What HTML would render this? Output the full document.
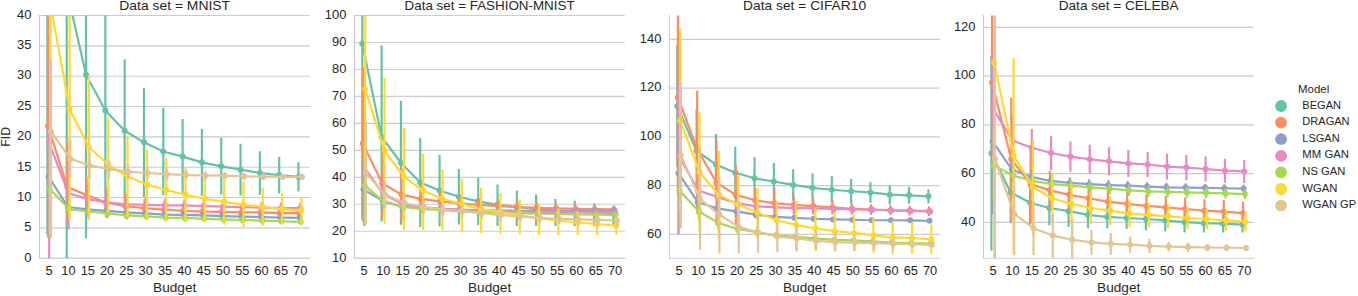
<!DOCTYPE html><html><head><meta charset="utf-8"><style>html,body{margin:0;padding:0;background:#fff;}body{width:1358px;height:296px;overflow:hidden;}</style></head><body><svg width="1358" height="296" viewBox="0 0 1358 296" style="display:block" font-family='"Liberation Sans", sans-serif' fill="#262626">
<rect width="1358" height="296" fill="#ffffff"/>
<defs><clipPath id="clip0"><rect x="39.5" y="15.5" width="270.4" height="242.75"/></clipPath></defs>
<line x1="39.5" y1="258.25" x2="309.9" y2="258.25" stroke="#cccccc" stroke-width="1.1"/>
<text x="31.50" y="261.55" font-size="11.97" text-anchor="end" textLength="7.19" lengthAdjust="spacingAndGlyphs" >0</text>
<line x1="39.5" y1="227.91" x2="309.9" y2="227.91" stroke="#cccccc" stroke-width="1.1"/>
<text x="31.50" y="231.21" font-size="11.97" text-anchor="end" textLength="7.19" lengthAdjust="spacingAndGlyphs" >5</text>
<line x1="39.5" y1="197.56" x2="309.9" y2="197.56" stroke="#cccccc" stroke-width="1.1"/>
<text x="31.50" y="200.86" font-size="11.97" text-anchor="end" textLength="14.38" lengthAdjust="spacingAndGlyphs" >10</text>
<line x1="39.5" y1="167.22" x2="309.9" y2="167.22" stroke="#cccccc" stroke-width="1.1"/>
<text x="31.50" y="170.52" font-size="11.97" text-anchor="end" textLength="14.38" lengthAdjust="spacingAndGlyphs" >15</text>
<line x1="39.5" y1="136.88" x2="309.9" y2="136.88" stroke="#cccccc" stroke-width="1.1"/>
<text x="31.50" y="140.18" font-size="11.97" text-anchor="end" textLength="14.38" lengthAdjust="spacingAndGlyphs" >20</text>
<line x1="39.5" y1="106.53" x2="309.9" y2="106.53" stroke="#cccccc" stroke-width="1.1"/>
<text x="31.50" y="109.83" font-size="11.97" text-anchor="end" textLength="14.38" lengthAdjust="spacingAndGlyphs" >25</text>
<line x1="39.5" y1="76.19" x2="309.9" y2="76.19" stroke="#cccccc" stroke-width="1.1"/>
<text x="31.50" y="79.49" font-size="11.97" text-anchor="end" textLength="14.38" lengthAdjust="spacingAndGlyphs" >30</text>
<line x1="39.5" y1="45.84" x2="309.9" y2="45.84" stroke="#cccccc" stroke-width="1.1"/>
<text x="31.50" y="49.14" font-size="11.97" text-anchor="end" textLength="14.38" lengthAdjust="spacingAndGlyphs" >35</text>
<line x1="39.5" y1="15.50" x2="309.9" y2="15.50" stroke="#cccccc" stroke-width="1.1"/>
<text x="31.50" y="18.80" font-size="11.97" text-anchor="end" textLength="14.38" lengthAdjust="spacingAndGlyphs" >40</text>
<line x1="39.5" y1="15.5" x2="39.5" y2="258.25" stroke="#cccccc" stroke-width="1.1" stroke-linecap="square"/>
<line x1="39.5" y1="258.25" x2="309.9" y2="258.25" stroke="#cccccc" stroke-width="1.1" stroke-linecap="square"/>
<text x="49.16" y="274.70" font-size="11.87" text-anchor="middle" textLength="7.13" lengthAdjust="spacingAndGlyphs" >5</text>
<text x="68.47" y="274.70" font-size="11.87" text-anchor="middle" textLength="14.25" lengthAdjust="spacingAndGlyphs" >10</text>
<text x="87.79" y="274.70" font-size="11.87" text-anchor="middle" textLength="14.25" lengthAdjust="spacingAndGlyphs" >15</text>
<text x="107.10" y="274.70" font-size="11.87" text-anchor="middle" textLength="14.25" lengthAdjust="spacingAndGlyphs" >20</text>
<text x="126.41" y="274.70" font-size="11.87" text-anchor="middle" textLength="14.25" lengthAdjust="spacingAndGlyphs" >25</text>
<text x="145.73" y="274.70" font-size="11.87" text-anchor="middle" textLength="14.25" lengthAdjust="spacingAndGlyphs" >30</text>
<text x="165.04" y="274.70" font-size="11.87" text-anchor="middle" textLength="14.25" lengthAdjust="spacingAndGlyphs" >35</text>
<text x="184.36" y="274.70" font-size="11.87" text-anchor="middle" textLength="14.25" lengthAdjust="spacingAndGlyphs" >40</text>
<text x="203.67" y="274.70" font-size="11.87" text-anchor="middle" textLength="14.25" lengthAdjust="spacingAndGlyphs" >45</text>
<text x="222.99" y="274.70" font-size="11.87" text-anchor="middle" textLength="14.25" lengthAdjust="spacingAndGlyphs" >50</text>
<text x="242.30" y="274.70" font-size="11.87" text-anchor="middle" textLength="14.25" lengthAdjust="spacingAndGlyphs" >55</text>
<text x="261.61" y="274.70" font-size="11.87" text-anchor="middle" textLength="14.25" lengthAdjust="spacingAndGlyphs" >60</text>
<text x="280.93" y="274.70" font-size="11.87" text-anchor="middle" textLength="14.25" lengthAdjust="spacingAndGlyphs" >65</text>
<text x="300.24" y="274.70" font-size="11.87" text-anchor="middle" textLength="14.25" lengthAdjust="spacingAndGlyphs" >70</text>
<text x="174.70" y="292.10" font-size="12.72" text-anchor="middle" textLength="43.16" lengthAdjust="spacingAndGlyphs" >Budget</text>
<text x="174.70" y="9.86" font-size="13.24" text-anchor="middle" textLength="110.74" lengthAdjust="spacingAndGlyphs" >Data set = MNIST</text>
<g clip-path="url(#clip0)" stroke-linecap="butt">
<polyline points="47.41,-105.88 66.72,-9.99 86.04,74.67 105.35,110.48 124.66,130.81 143.98,142.34 163.29,151.44 182.61,156.60 201.92,162.36 221.24,166.31 240.55,169.65 259.86,172.98 279.18,175.11 298.49,176.93" fill="none" stroke="#66c2a5" stroke-width="2.2" stroke-linejoin="round"/>
<line x1="47.41" y1="233.97" x2="47.41" y2="-445.72" stroke="#66c2a5" stroke-width="2.2"/>
<line x1="66.72" y1="281.31" x2="66.72" y2="-301.29" stroke="#66c2a5" stroke-width="2.2"/>
<line x1="86.04" y1="238.53" x2="86.04" y2="-89.19" stroke="#66c2a5" stroke-width="2.2"/>
<line x1="105.35" y1="213.64" x2="105.35" y2="7.31" stroke="#66c2a5" stroke-width="2.2"/>
<line x1="124.66" y1="202.42" x2="124.66" y2="59.20" stroke="#66c2a5" stroke-width="2.2"/>
<line x1="143.98" y1="196.96" x2="143.98" y2="87.72" stroke="#66c2a5" stroke-width="2.2"/>
<line x1="163.29" y1="195.13" x2="163.29" y2="107.75" stroke="#66c2a5" stroke-width="2.2"/>
<line x1="182.61" y1="194.22" x2="182.61" y2="118.97" stroke="#66c2a5" stroke-width="2.2"/>
<line x1="201.92" y1="195.74" x2="201.92" y2="128.99" stroke="#66c2a5" stroke-width="2.2"/>
<line x1="221.24" y1="194.83" x2="221.24" y2="137.79" stroke="#66c2a5" stroke-width="2.2"/>
<line x1="240.55" y1="195.44" x2="240.55" y2="143.85" stroke="#66c2a5" stroke-width="2.2"/>
<line x1="259.86" y1="194.83" x2="259.86" y2="151.14" stroke="#66c2a5" stroke-width="2.2"/>
<line x1="279.18" y1="193.31" x2="279.18" y2="156.90" stroke="#66c2a5" stroke-width="2.2"/>
<line x1="298.49" y1="191.49" x2="298.49" y2="162.36" stroke="#66c2a5" stroke-width="2.2"/>
<circle cx="47.41" cy="-105.88" r="3.0" fill="#66c2a5"/>
<circle cx="66.72" cy="-9.99" r="3.0" fill="#66c2a5"/>
<circle cx="86.04" cy="74.67" r="3.0" fill="#66c2a5"/>
<circle cx="105.35" cy="110.48" r="3.0" fill="#66c2a5"/>
<circle cx="124.66" cy="130.81" r="3.0" fill="#66c2a5"/>
<circle cx="143.98" cy="142.34" r="3.0" fill="#66c2a5"/>
<circle cx="163.29" cy="151.44" r="3.0" fill="#66c2a5"/>
<circle cx="182.61" cy="156.60" r="3.0" fill="#66c2a5"/>
<circle cx="201.92" cy="162.36" r="3.0" fill="#66c2a5"/>
<circle cx="221.24" cy="166.31" r="3.0" fill="#66c2a5"/>
<circle cx="240.55" cy="169.65" r="3.0" fill="#66c2a5"/>
<circle cx="259.86" cy="172.98" r="3.0" fill="#66c2a5"/>
<circle cx="279.18" cy="175.11" r="3.0" fill="#66c2a5"/>
<circle cx="298.49" cy="176.93" r="3.0" fill="#66c2a5"/>
<polyline points="47.99,125.95 67.30,186.94 86.62,195.13 105.93,202.42 125.25,206.06 144.56,208.18 163.88,209.70 183.19,210.91 202.50,211.52 221.82,211.82 241.13,212.43 260.45,212.43 279.76,213.04 299.08,213.04" fill="none" stroke="#fc8d62" stroke-width="2.2" stroke-linejoin="round"/>
<line x1="47.99" y1="237.62" x2="47.99" y2="-7.56" stroke="#fc8d62" stroke-width="2.2"/>
<line x1="67.30" y1="223.35" x2="67.30" y2="141.43" stroke="#fc8d62" stroke-width="2.2"/>
<line x1="86.62" y1="213.34" x2="86.62" y2="176.93" stroke="#fc8d62" stroke-width="2.2"/>
<line x1="105.93" y1="217.59" x2="105.93" y2="187.25" stroke="#fc8d62" stroke-width="2.2"/>
<line x1="125.25" y1="218.20" x2="125.25" y2="193.92" stroke="#fc8d62" stroke-width="2.2"/>
<line x1="144.56" y1="217.29" x2="144.56" y2="199.08" stroke="#fc8d62" stroke-width="2.2"/>
<line x1="163.88" y1="217.59" x2="163.88" y2="201.81" stroke="#fc8d62" stroke-width="2.2"/>
<line x1="183.19" y1="218.20" x2="183.19" y2="203.63" stroke="#fc8d62" stroke-width="2.2"/>
<line x1="202.50" y1="218.20" x2="202.50" y2="204.84" stroke="#fc8d62" stroke-width="2.2"/>
<line x1="221.82" y1="217.89" x2="221.82" y2="205.76" stroke="#fc8d62" stroke-width="2.2"/>
<line x1="241.13" y1="218.50" x2="241.13" y2="206.36" stroke="#fc8d62" stroke-width="2.2"/>
<line x1="260.45" y1="218.50" x2="260.45" y2="206.36" stroke="#fc8d62" stroke-width="2.2"/>
<line x1="279.76" y1="218.50" x2="279.76" y2="207.58" stroke="#fc8d62" stroke-width="2.2"/>
<line x1="299.08" y1="218.50" x2="299.08" y2="207.58" stroke="#fc8d62" stroke-width="2.2"/>
<circle cx="47.99" cy="125.95" r="3.0" fill="#fc8d62"/>
<circle cx="67.30" cy="186.94" r="3.0" fill="#fc8d62"/>
<circle cx="86.62" cy="195.13" r="3.0" fill="#fc8d62"/>
<circle cx="105.93" cy="202.42" r="3.0" fill="#fc8d62"/>
<circle cx="125.25" cy="206.06" r="3.0" fill="#fc8d62"/>
<circle cx="144.56" cy="208.18" r="3.0" fill="#fc8d62"/>
<circle cx="163.88" cy="209.70" r="3.0" fill="#fc8d62"/>
<circle cx="183.19" cy="210.91" r="3.0" fill="#fc8d62"/>
<circle cx="202.50" cy="211.52" r="3.0" fill="#fc8d62"/>
<circle cx="221.82" cy="211.82" r="3.0" fill="#fc8d62"/>
<circle cx="241.13" cy="212.43" r="3.0" fill="#fc8d62"/>
<circle cx="260.45" cy="212.43" r="3.0" fill="#fc8d62"/>
<circle cx="279.76" cy="213.04" r="3.0" fill="#fc8d62"/>
<circle cx="299.08" cy="213.04" r="3.0" fill="#fc8d62"/>
<polyline points="48.57,176.63 67.89,206.97 87.20,209.40 106.52,210.91 125.83,212.43 145.15,213.34 164.46,214.56 183.77,214.86 203.09,215.47 222.40,216.07 241.72,216.68 261.03,216.98 280.35,217.59 299.66,217.89" fill="none" stroke="#8da0cb" stroke-width="2.2" stroke-linejoin="round"/>
<line x1="48.57" y1="231.24" x2="48.57" y2="140.21" stroke="#8da0cb" stroke-width="2.2"/>
<line x1="67.89" y1="219.11" x2="67.89" y2="194.83" stroke="#8da0cb" stroke-width="2.2"/>
<line x1="87.20" y1="215.47" x2="87.20" y2="203.33" stroke="#8da0cb" stroke-width="2.2"/>
<line x1="106.52" y1="215.77" x2="106.52" y2="206.06" stroke="#8da0cb" stroke-width="2.2"/>
<line x1="125.83" y1="216.68" x2="125.83" y2="208.18" stroke="#8da0cb" stroke-width="2.2"/>
<line x1="145.15" y1="216.98" x2="145.15" y2="209.70" stroke="#8da0cb" stroke-width="2.2"/>
<line x1="164.46" y1="218.20" x2="164.46" y2="210.91" stroke="#8da0cb" stroke-width="2.2"/>
<line x1="183.77" y1="217.89" x2="183.77" y2="211.82" stroke="#8da0cb" stroke-width="2.2"/>
<line x1="203.09" y1="218.50" x2="203.09" y2="212.43" stroke="#8da0cb" stroke-width="2.2"/>
<line x1="222.40" y1="219.11" x2="222.40" y2="213.04" stroke="#8da0cb" stroke-width="2.2"/>
<line x1="241.72" y1="219.71" x2="241.72" y2="213.64" stroke="#8da0cb" stroke-width="2.2"/>
<line x1="261.03" y1="220.02" x2="261.03" y2="213.95" stroke="#8da0cb" stroke-width="2.2"/>
<line x1="280.35" y1="220.62" x2="280.35" y2="214.56" stroke="#8da0cb" stroke-width="2.2"/>
<line x1="299.66" y1="220.93" x2="299.66" y2="214.86" stroke="#8da0cb" stroke-width="2.2"/>
<circle cx="48.57" cy="176.63" r="3.0" fill="#8da0cb"/>
<circle cx="67.89" cy="206.97" r="3.0" fill="#8da0cb"/>
<circle cx="87.20" cy="209.40" r="3.0" fill="#8da0cb"/>
<circle cx="106.52" cy="210.91" r="3.0" fill="#8da0cb"/>
<circle cx="125.83" cy="212.43" r="3.0" fill="#8da0cb"/>
<circle cx="145.15" cy="213.34" r="3.0" fill="#8da0cb"/>
<circle cx="164.46" cy="214.56" r="3.0" fill="#8da0cb"/>
<circle cx="183.77" cy="214.86" r="3.0" fill="#8da0cb"/>
<circle cx="203.09" cy="215.47" r="3.0" fill="#8da0cb"/>
<circle cx="222.40" cy="216.07" r="3.0" fill="#8da0cb"/>
<circle cx="241.72" cy="216.68" r="3.0" fill="#8da0cb"/>
<circle cx="261.03" cy="216.98" r="3.0" fill="#8da0cb"/>
<circle cx="280.35" cy="217.59" r="3.0" fill="#8da0cb"/>
<circle cx="299.66" cy="217.89" r="3.0" fill="#8da0cb"/>
<polyline points="49.16,142.94 68.47,193.31 87.79,199.08 107.10,202.72 126.41,204.24 145.73,204.84 165.04,205.45 184.36,205.45 203.67,206.06 222.99,206.67 242.30,207.27 261.61,207.58 280.93,208.18 300.24,208.18" fill="none" stroke="#e78ac3" stroke-width="2.2" stroke-linejoin="round"/>
<line x1="49.16" y1="294.66" x2="49.16" y2="127.77" stroke="#e78ac3" stroke-width="2.2"/>
<line x1="68.47" y1="229.73" x2="68.47" y2="156.90" stroke="#e78ac3" stroke-width="2.2"/>
<line x1="87.79" y1="214.25" x2="87.79" y2="183.91" stroke="#e78ac3" stroke-width="2.2"/>
<line x1="107.10" y1="214.86" x2="107.10" y2="190.58" stroke="#e78ac3" stroke-width="2.2"/>
<line x1="126.41" y1="213.34" x2="126.41" y2="195.13" stroke="#e78ac3" stroke-width="2.2"/>
<line x1="145.73" y1="212.13" x2="145.73" y2="197.56" stroke="#e78ac3" stroke-width="2.2"/>
<line x1="165.04" y1="212.13" x2="165.04" y2="198.78" stroke="#e78ac3" stroke-width="2.2"/>
<line x1="184.36" y1="211.52" x2="184.36" y2="199.38" stroke="#e78ac3" stroke-width="2.2"/>
<line x1="203.67" y1="212.13" x2="203.67" y2="199.99" stroke="#e78ac3" stroke-width="2.2"/>
<line x1="222.99" y1="212.73" x2="222.99" y2="200.60" stroke="#e78ac3" stroke-width="2.2"/>
<line x1="242.30" y1="212.73" x2="242.30" y2="201.81" stroke="#e78ac3" stroke-width="2.2"/>
<line x1="261.61" y1="213.04" x2="261.61" y2="202.11" stroke="#e78ac3" stroke-width="2.2"/>
<line x1="280.93" y1="213.64" x2="280.93" y2="202.72" stroke="#e78ac3" stroke-width="2.2"/>
<line x1="300.24" y1="213.64" x2="300.24" y2="202.72" stroke="#e78ac3" stroke-width="2.2"/>
<circle cx="49.16" cy="142.94" r="3.0" fill="#e78ac3"/>
<circle cx="68.47" cy="193.31" r="3.0" fill="#e78ac3"/>
<circle cx="87.79" cy="199.08" r="3.0" fill="#e78ac3"/>
<circle cx="107.10" cy="202.72" r="3.0" fill="#e78ac3"/>
<circle cx="126.41" cy="204.24" r="3.0" fill="#e78ac3"/>
<circle cx="145.73" cy="204.84" r="3.0" fill="#e78ac3"/>
<circle cx="165.04" cy="205.45" r="3.0" fill="#e78ac3"/>
<circle cx="184.36" cy="205.45" r="3.0" fill="#e78ac3"/>
<circle cx="203.67" cy="206.06" r="3.0" fill="#e78ac3"/>
<circle cx="222.99" cy="206.67" r="3.0" fill="#e78ac3"/>
<circle cx="242.30" cy="207.27" r="3.0" fill="#e78ac3"/>
<circle cx="261.61" cy="207.58" r="3.0" fill="#e78ac3"/>
<circle cx="280.93" cy="208.18" r="3.0" fill="#e78ac3"/>
<circle cx="300.24" cy="208.18" r="3.0" fill="#e78ac3"/>
<polyline points="49.74,189.07 69.05,209.09 88.37,211.52 107.68,213.34 127.00,215.47 146.31,216.38 165.63,217.59 184.94,217.89 204.25,218.80 223.57,219.41 242.88,220.02 262.20,220.62 281.51,221.23 300.83,221.84" fill="none" stroke="#a6d854" stroke-width="2.2" stroke-linejoin="round"/>
<line x1="49.74" y1="237.62" x2="49.74" y2="146.59" stroke="#a6d854" stroke-width="2.2"/>
<line x1="69.05" y1="218.20" x2="69.05" y2="199.99" stroke="#a6d854" stroke-width="2.2"/>
<line x1="88.37" y1="217.59" x2="88.37" y2="205.45" stroke="#a6d854" stroke-width="2.2"/>
<line x1="107.68" y1="218.20" x2="107.68" y2="208.49" stroke="#a6d854" stroke-width="2.2"/>
<line x1="127.00" y1="219.71" x2="127.00" y2="211.22" stroke="#a6d854" stroke-width="2.2"/>
<line x1="146.31" y1="220.02" x2="146.31" y2="212.73" stroke="#a6d854" stroke-width="2.2"/>
<line x1="165.63" y1="221.23" x2="165.63" y2="213.95" stroke="#a6d854" stroke-width="2.2"/>
<line x1="184.94" y1="220.93" x2="184.94" y2="214.86" stroke="#a6d854" stroke-width="2.2"/>
<line x1="204.25" y1="221.84" x2="204.25" y2="215.77" stroke="#a6d854" stroke-width="2.2"/>
<line x1="223.57" y1="222.44" x2="223.57" y2="216.38" stroke="#a6d854" stroke-width="2.2"/>
<line x1="242.88" y1="223.05" x2="242.88" y2="216.98" stroke="#a6d854" stroke-width="2.2"/>
<line x1="262.20" y1="223.66" x2="262.20" y2="217.59" stroke="#a6d854" stroke-width="2.2"/>
<line x1="281.51" y1="224.27" x2="281.51" y2="218.20" stroke="#a6d854" stroke-width="2.2"/>
<line x1="300.83" y1="224.87" x2="300.83" y2="218.80" stroke="#a6d854" stroke-width="2.2"/>
<circle cx="49.74" cy="189.07" r="3.0" fill="#a6d854"/>
<circle cx="69.05" cy="209.09" r="3.0" fill="#a6d854"/>
<circle cx="88.37" cy="211.52" r="3.0" fill="#a6d854"/>
<circle cx="107.68" cy="213.34" r="3.0" fill="#a6d854"/>
<circle cx="127.00" cy="215.47" r="3.0" fill="#a6d854"/>
<circle cx="146.31" cy="216.38" r="3.0" fill="#a6d854"/>
<circle cx="165.63" cy="217.59" r="3.0" fill="#a6d854"/>
<circle cx="184.94" cy="217.89" r="3.0" fill="#a6d854"/>
<circle cx="204.25" cy="218.80" r="3.0" fill="#a6d854"/>
<circle cx="223.57" cy="219.41" r="3.0" fill="#a6d854"/>
<circle cx="242.88" cy="220.02" r="3.0" fill="#a6d854"/>
<circle cx="262.20" cy="220.62" r="3.0" fill="#a6d854"/>
<circle cx="281.51" cy="221.23" r="3.0" fill="#a6d854"/>
<circle cx="300.83" cy="221.84" r="3.0" fill="#a6d854"/>
<polyline points="50.32,3.36 69.64,108.96 88.95,147.19 108.27,164.79 127.58,176.63 146.90,184.51 166.21,189.98 185.52,194.83 204.84,198.78 224.15,201.81 243.47,204.54 262.78,206.97 282.10,209.09 301.41,210.31" fill="none" stroke="#ffd92f" stroke-width="2.2" stroke-linejoin="round"/>
<line x1="50.32" y1="233.97" x2="50.32" y2="-227.25" stroke="#ffd92f" stroke-width="2.2"/>
<line x1="69.64" y1="219.41" x2="69.64" y2="-1.49" stroke="#ffd92f" stroke-width="2.2"/>
<line x1="88.95" y1="219.41" x2="88.95" y2="74.97" stroke="#ffd92f" stroke-width="2.2"/>
<line x1="108.27" y1="212.13" x2="108.27" y2="117.46" stroke="#ffd92f" stroke-width="2.2"/>
<line x1="127.58" y1="216.98" x2="127.58" y2="136.27" stroke="#ffd92f" stroke-width="2.2"/>
<line x1="146.90" y1="219.71" x2="146.90" y2="149.32" stroke="#ffd92f" stroke-width="2.2"/>
<line x1="166.21" y1="221.84" x2="166.21" y2="158.12" stroke="#ffd92f" stroke-width="2.2"/>
<line x1="185.52" y1="222.44" x2="185.52" y2="167.22" stroke="#ffd92f" stroke-width="2.2"/>
<line x1="204.84" y1="221.84" x2="204.84" y2="175.71" stroke="#ffd92f" stroke-width="2.2"/>
<line x1="224.15" y1="224.87" x2="224.15" y2="178.75" stroke="#ffd92f" stroke-width="2.2"/>
<line x1="243.47" y1="227.30" x2="243.47" y2="181.78" stroke="#ffd92f" stroke-width="2.2"/>
<line x1="262.78" y1="226.09" x2="262.78" y2="187.85" stroke="#ffd92f" stroke-width="2.2"/>
<line x1="282.10" y1="224.87" x2="282.10" y2="193.31" stroke="#ffd92f" stroke-width="2.2"/>
<line x1="301.41" y1="223.35" x2="301.41" y2="197.26" stroke="#ffd92f" stroke-width="2.2"/>
<circle cx="50.32" cy="3.36" r="3.0" fill="#ffd92f"/>
<circle cx="69.64" cy="108.96" r="3.0" fill="#ffd92f"/>
<circle cx="88.95" cy="147.19" r="3.0" fill="#ffd92f"/>
<circle cx="108.27" cy="164.79" r="3.0" fill="#ffd92f"/>
<circle cx="127.58" cy="176.63" r="3.0" fill="#ffd92f"/>
<circle cx="146.90" cy="184.51" r="3.0" fill="#ffd92f"/>
<circle cx="166.21" cy="189.98" r="3.0" fill="#ffd92f"/>
<circle cx="185.52" cy="194.83" r="3.0" fill="#ffd92f"/>
<circle cx="204.84" cy="198.78" r="3.0" fill="#ffd92f"/>
<circle cx="224.15" cy="201.81" r="3.0" fill="#ffd92f"/>
<circle cx="243.47" cy="204.54" r="3.0" fill="#ffd92f"/>
<circle cx="262.78" cy="206.97" r="3.0" fill="#ffd92f"/>
<circle cx="282.10" cy="209.09" r="3.0" fill="#ffd92f"/>
<circle cx="301.41" cy="210.31" r="3.0" fill="#ffd92f"/>
<polyline points="50.91,131.41 70.22,158.72 89.54,165.40 108.85,169.04 128.16,171.77 147.48,172.98 166.79,174.20 186.11,175.11 205.42,175.41 224.74,175.72 244.05,176.32 263.36,176.63 282.68,176.93 301.99,176.93" fill="none" stroke="#e5c494" stroke-width="2.2" stroke-linejoin="round"/>
<line x1="50.91" y1="237.62" x2="50.91" y2="59.80" stroke="#e5c494" stroke-width="2.2"/>
<line x1="70.22" y1="177.54" x2="70.22" y2="139.91" stroke="#e5c494" stroke-width="2.2"/>
<line x1="89.54" y1="178.75" x2="89.54" y2="152.05" stroke="#e5c494" stroke-width="2.2"/>
<line x1="108.85" y1="178.14" x2="108.85" y2="159.94" stroke="#e5c494" stroke-width="2.2"/>
<line x1="128.16" y1="179.05" x2="128.16" y2="164.49" stroke="#e5c494" stroke-width="2.2"/>
<line x1="147.48" y1="179.05" x2="147.48" y2="166.92" stroke="#e5c494" stroke-width="2.2"/>
<line x1="166.79" y1="179.66" x2="166.79" y2="168.74" stroke="#e5c494" stroke-width="2.2"/>
<line x1="186.11" y1="179.96" x2="186.11" y2="170.25" stroke="#e5c494" stroke-width="2.2"/>
<line x1="205.42" y1="179.66" x2="205.42" y2="171.16" stroke="#e5c494" stroke-width="2.2"/>
<line x1="224.74" y1="179.36" x2="224.74" y2="172.07" stroke="#e5c494" stroke-width="2.2"/>
<line x1="244.05" y1="179.96" x2="244.05" y2="172.68" stroke="#e5c494" stroke-width="2.2"/>
<line x1="263.36" y1="179.66" x2="263.36" y2="173.59" stroke="#e5c494" stroke-width="2.2"/>
<line x1="282.68" y1="179.96" x2="282.68" y2="173.89" stroke="#e5c494" stroke-width="2.2"/>
<line x1="301.99" y1="179.96" x2="301.99" y2="173.89" stroke="#e5c494" stroke-width="2.2"/>
<circle cx="50.91" cy="131.41" r="3.0" fill="#e5c494"/>
<circle cx="70.22" cy="158.72" r="3.0" fill="#e5c494"/>
<circle cx="89.54" cy="165.40" r="3.0" fill="#e5c494"/>
<circle cx="108.85" cy="169.04" r="3.0" fill="#e5c494"/>
<circle cx="128.16" cy="171.77" r="3.0" fill="#e5c494"/>
<circle cx="147.48" cy="172.98" r="3.0" fill="#e5c494"/>
<circle cx="166.79" cy="174.20" r="3.0" fill="#e5c494"/>
<circle cx="186.11" cy="175.11" r="3.0" fill="#e5c494"/>
<circle cx="205.42" cy="175.41" r="3.0" fill="#e5c494"/>
<circle cx="224.74" cy="175.72" r="3.0" fill="#e5c494"/>
<circle cx="244.05" cy="176.32" r="3.0" fill="#e5c494"/>
<circle cx="263.36" cy="176.63" r="3.0" fill="#e5c494"/>
<circle cx="282.68" cy="176.93" r="3.0" fill="#e5c494"/>
<circle cx="301.99" cy="176.93" r="3.0" fill="#e5c494"/>
</g>
<defs><clipPath id="clip1"><rect x="354.4" y="15.5" width="270.4" height="242.75"/></clipPath></defs>
<line x1="354.4" y1="258.25" x2="624.8" y2="258.25" stroke="#cccccc" stroke-width="1.1"/>
<text x="346.40" y="261.55" font-size="11.97" text-anchor="end" textLength="14.38" lengthAdjust="spacingAndGlyphs" >10</text>
<line x1="354.4" y1="231.28" x2="624.8" y2="231.28" stroke="#cccccc" stroke-width="1.1"/>
<text x="346.40" y="234.58" font-size="11.97" text-anchor="end" textLength="14.38" lengthAdjust="spacingAndGlyphs" >20</text>
<line x1="354.4" y1="204.31" x2="624.8" y2="204.31" stroke="#cccccc" stroke-width="1.1"/>
<text x="346.40" y="207.61" font-size="11.97" text-anchor="end" textLength="14.38" lengthAdjust="spacingAndGlyphs" >30</text>
<line x1="354.4" y1="177.33" x2="624.8" y2="177.33" stroke="#cccccc" stroke-width="1.1"/>
<text x="346.40" y="180.63" font-size="11.97" text-anchor="end" textLength="14.38" lengthAdjust="spacingAndGlyphs" >40</text>
<line x1="354.4" y1="150.36" x2="624.8" y2="150.36" stroke="#cccccc" stroke-width="1.1"/>
<text x="346.40" y="153.66" font-size="11.97" text-anchor="end" textLength="14.38" lengthAdjust="spacingAndGlyphs" >50</text>
<line x1="354.4" y1="123.39" x2="624.8" y2="123.39" stroke="#cccccc" stroke-width="1.1"/>
<text x="346.40" y="126.69" font-size="11.97" text-anchor="end" textLength="14.38" lengthAdjust="spacingAndGlyphs" >60</text>
<line x1="354.4" y1="96.42" x2="624.8" y2="96.42" stroke="#cccccc" stroke-width="1.1"/>
<text x="346.40" y="99.72" font-size="11.97" text-anchor="end" textLength="14.38" lengthAdjust="spacingAndGlyphs" >70</text>
<line x1="354.4" y1="69.44" x2="624.8" y2="69.44" stroke="#cccccc" stroke-width="1.1"/>
<text x="346.40" y="72.74" font-size="11.97" text-anchor="end" textLength="14.38" lengthAdjust="spacingAndGlyphs" >80</text>
<line x1="354.4" y1="42.47" x2="624.8" y2="42.47" stroke="#cccccc" stroke-width="1.1"/>
<text x="346.40" y="45.77" font-size="11.97" text-anchor="end" textLength="14.38" lengthAdjust="spacingAndGlyphs" >90</text>
<line x1="354.4" y1="15.50" x2="624.8" y2="15.50" stroke="#cccccc" stroke-width="1.1"/>
<text x="346.40" y="18.80" font-size="11.97" text-anchor="end" textLength="21.57" lengthAdjust="spacingAndGlyphs" >100</text>
<line x1="354.4" y1="15.5" x2="354.4" y2="258.25" stroke="#cccccc" stroke-width="1.1" stroke-linecap="square"/>
<line x1="354.4" y1="258.25" x2="624.8" y2="258.25" stroke="#cccccc" stroke-width="1.1" stroke-linecap="square"/>
<text x="364.06" y="274.70" font-size="11.87" text-anchor="middle" textLength="7.13" lengthAdjust="spacingAndGlyphs" >5</text>
<text x="383.37" y="274.70" font-size="11.87" text-anchor="middle" textLength="14.25" lengthAdjust="spacingAndGlyphs" >10</text>
<text x="402.69" y="274.70" font-size="11.87" text-anchor="middle" textLength="14.25" lengthAdjust="spacingAndGlyphs" >15</text>
<text x="422.00" y="274.70" font-size="11.87" text-anchor="middle" textLength="14.25" lengthAdjust="spacingAndGlyphs" >20</text>
<text x="441.31" y="274.70" font-size="11.87" text-anchor="middle" textLength="14.25" lengthAdjust="spacingAndGlyphs" >25</text>
<text x="460.63" y="274.70" font-size="11.87" text-anchor="middle" textLength="14.25" lengthAdjust="spacingAndGlyphs" >30</text>
<text x="479.94" y="274.70" font-size="11.87" text-anchor="middle" textLength="14.25" lengthAdjust="spacingAndGlyphs" >35</text>
<text x="499.26" y="274.70" font-size="11.87" text-anchor="middle" textLength="14.25" lengthAdjust="spacingAndGlyphs" >40</text>
<text x="518.57" y="274.70" font-size="11.87" text-anchor="middle" textLength="14.25" lengthAdjust="spacingAndGlyphs" >45</text>
<text x="537.89" y="274.70" font-size="11.87" text-anchor="middle" textLength="14.25" lengthAdjust="spacingAndGlyphs" >50</text>
<text x="557.20" y="274.70" font-size="11.87" text-anchor="middle" textLength="14.25" lengthAdjust="spacingAndGlyphs" >55</text>
<text x="576.51" y="274.70" font-size="11.87" text-anchor="middle" textLength="14.25" lengthAdjust="spacingAndGlyphs" >60</text>
<text x="595.83" y="274.70" font-size="11.87" text-anchor="middle" textLength="14.25" lengthAdjust="spacingAndGlyphs" >65</text>
<text x="615.14" y="274.70" font-size="11.87" text-anchor="middle" textLength="14.25" lengthAdjust="spacingAndGlyphs" >70</text>
<text x="489.60" y="292.10" font-size="12.72" text-anchor="middle" textLength="43.16" lengthAdjust="spacingAndGlyphs" >Budget</text>
<text x="489.60" y="9.86" font-size="13.24" text-anchor="middle" textLength="170.05" lengthAdjust="spacingAndGlyphs" >Data set = FASHION-MNIST</text>
<g clip-path="url(#clip1)" stroke-linecap="butt">
<polyline points="362.31,43.82 381.62,136.88 400.94,162.77 420.25,182.46 439.56,190.55 458.88,196.75 478.19,201.34 497.51,204.84 516.82,207.00 536.14,209.16 555.45,210.51 574.76,211.59 594.08,212.40 613.39,212.94" fill="none" stroke="#66c2a5" stroke-width="2.2" stroke-linejoin="round"/>
<line x1="362.31" y1="219.14" x2="362.31" y2="-131.50" stroke="#66c2a5" stroke-width="2.2"/>
<line x1="381.62" y1="221.57" x2="381.62" y2="45.17" stroke="#66c2a5" stroke-width="2.2"/>
<line x1="400.94" y1="224.80" x2="400.94" y2="100.73" stroke="#66c2a5" stroke-width="2.2"/>
<line x1="420.25" y1="226.96" x2="420.25" y2="137.95" stroke="#66c2a5" stroke-width="2.2"/>
<line x1="439.56" y1="226.42" x2="439.56" y2="154.68" stroke="#66c2a5" stroke-width="2.2"/>
<line x1="458.88" y1="224.53" x2="458.88" y2="168.97" stroke="#66c2a5" stroke-width="2.2"/>
<line x1="478.19" y1="224.94" x2="478.19" y2="177.74" stroke="#66c2a5" stroke-width="2.2"/>
<line x1="497.51" y1="225.88" x2="497.51" y2="184.62" stroke="#66c2a5" stroke-width="2.2"/>
<line x1="516.82" y1="225.88" x2="516.82" y2="190.55" stroke="#66c2a5" stroke-width="2.2"/>
<line x1="536.14" y1="225.88" x2="536.14" y2="194.60" stroke="#66c2a5" stroke-width="2.2"/>
<line x1="555.45" y1="225.88" x2="555.45" y2="198.91" stroke="#66c2a5" stroke-width="2.2"/>
<line x1="574.76" y1="225.88" x2="574.76" y2="200.80" stroke="#66c2a5" stroke-width="2.2"/>
<line x1="594.08" y1="225.88" x2="594.08" y2="203.50" stroke="#66c2a5" stroke-width="2.2"/>
<line x1="613.39" y1="225.88" x2="613.39" y2="205.92" stroke="#66c2a5" stroke-width="2.2"/>
<circle cx="362.31" cy="43.82" r="3.0" fill="#66c2a5"/>
<circle cx="381.62" cy="136.88" r="3.0" fill="#66c2a5"/>
<circle cx="400.94" cy="162.77" r="3.0" fill="#66c2a5"/>
<circle cx="420.25" cy="182.46" r="3.0" fill="#66c2a5"/>
<circle cx="439.56" cy="190.55" r="3.0" fill="#66c2a5"/>
<circle cx="458.88" cy="196.75" r="3.0" fill="#66c2a5"/>
<circle cx="478.19" cy="201.34" r="3.0" fill="#66c2a5"/>
<circle cx="497.51" cy="204.84" r="3.0" fill="#66c2a5"/>
<circle cx="516.82" cy="207.00" r="3.0" fill="#66c2a5"/>
<circle cx="536.14" cy="209.16" r="3.0" fill="#66c2a5"/>
<circle cx="555.45" cy="210.51" r="3.0" fill="#66c2a5"/>
<circle cx="574.76" cy="211.59" r="3.0" fill="#66c2a5"/>
<circle cx="594.08" cy="212.40" r="3.0" fill="#66c2a5"/>
<circle cx="613.39" cy="212.94" r="3.0" fill="#66c2a5"/>
<polyline points="362.89,143.62 382.20,183.27 401.52,194.60 420.83,198.91 440.15,201.34 459.46,203.23 478.78,204.84 498.09,206.06 517.40,207.00 536.72,207.81 556.03,208.35 575.35,208.89 594.66,209.16 613.98,209.43" fill="none" stroke="#fc8d62" stroke-width="2.2" stroke-linejoin="round"/>
<line x1="362.89" y1="220.49" x2="362.89" y2="66.75" stroke="#fc8d62" stroke-width="2.2"/>
<line x1="382.20" y1="218.33" x2="382.20" y2="148.20" stroke="#fc8d62" stroke-width="2.2"/>
<line x1="401.52" y1="221.57" x2="401.52" y2="167.62" stroke="#fc8d62" stroke-width="2.2"/>
<line x1="420.83" y1="212.40" x2="420.83" y2="185.43" stroke="#fc8d62" stroke-width="2.2"/>
<line x1="440.15" y1="210.78" x2="440.15" y2="191.90" stroke="#fc8d62" stroke-width="2.2"/>
<line x1="459.46" y1="211.32" x2="459.46" y2="195.13" stroke="#fc8d62" stroke-width="2.2"/>
<line x1="478.78" y1="211.59" x2="478.78" y2="198.10" stroke="#fc8d62" stroke-width="2.2"/>
<line x1="498.09" y1="211.99" x2="498.09" y2="200.12" stroke="#fc8d62" stroke-width="2.2"/>
<line x1="517.40" y1="212.40" x2="517.40" y2="201.61" stroke="#fc8d62" stroke-width="2.2"/>
<line x1="536.72" y1="213.21" x2="536.72" y2="202.42" stroke="#fc8d62" stroke-width="2.2"/>
<line x1="556.03" y1="213.21" x2="556.03" y2="203.50" stroke="#fc8d62" stroke-width="2.2"/>
<line x1="575.35" y1="213.75" x2="575.35" y2="204.04" stroke="#fc8d62" stroke-width="2.2"/>
<line x1="594.66" y1="213.48" x2="594.66" y2="204.84" stroke="#fc8d62" stroke-width="2.2"/>
<line x1="613.98" y1="213.48" x2="613.98" y2="205.38" stroke="#fc8d62" stroke-width="2.2"/>
<circle cx="362.89" cy="143.62" r="3.0" fill="#fc8d62"/>
<circle cx="382.20" cy="183.27" r="3.0" fill="#fc8d62"/>
<circle cx="401.52" cy="194.60" r="3.0" fill="#fc8d62"/>
<circle cx="420.83" cy="198.91" r="3.0" fill="#fc8d62"/>
<circle cx="440.15" cy="201.34" r="3.0" fill="#fc8d62"/>
<circle cx="459.46" cy="203.23" r="3.0" fill="#fc8d62"/>
<circle cx="478.78" cy="204.84" r="3.0" fill="#fc8d62"/>
<circle cx="498.09" cy="206.06" r="3.0" fill="#fc8d62"/>
<circle cx="517.40" cy="207.00" r="3.0" fill="#fc8d62"/>
<circle cx="536.72" cy="207.81" r="3.0" fill="#fc8d62"/>
<circle cx="556.03" cy="208.35" r="3.0" fill="#fc8d62"/>
<circle cx="575.35" cy="208.89" r="3.0" fill="#fc8d62"/>
<circle cx="594.66" cy="209.16" r="3.0" fill="#fc8d62"/>
<circle cx="613.98" cy="209.43" r="3.0" fill="#fc8d62"/>
<polyline points="363.47,189.47 382.79,200.80 402.10,206.73 421.42,208.08 440.73,209.16 460.05,209.70 479.36,210.24 498.67,210.51 517.99,210.78 537.30,211.05 556.62,211.05 575.93,211.05 595.25,211.05 614.56,211.05" fill="none" stroke="#8da0cb" stroke-width="2.2" stroke-linejoin="round"/>
<line x1="363.47" y1="221.84" x2="363.47" y2="157.10" stroke="#8da0cb" stroke-width="2.2"/>
<line x1="382.79" y1="208.89" x2="382.79" y2="192.71" stroke="#8da0cb" stroke-width="2.2"/>
<line x1="402.10" y1="212.13" x2="402.10" y2="201.34" stroke="#8da0cb" stroke-width="2.2"/>
<line x1="421.42" y1="212.13" x2="421.42" y2="204.04" stroke="#8da0cb" stroke-width="2.2"/>
<line x1="440.73" y1="212.40" x2="440.73" y2="205.92" stroke="#8da0cb" stroke-width="2.2"/>
<line x1="460.05" y1="212.40" x2="460.05" y2="207.00" stroke="#8da0cb" stroke-width="2.2"/>
<line x1="479.36" y1="212.94" x2="479.36" y2="207.54" stroke="#8da0cb" stroke-width="2.2"/>
<line x1="498.67" y1="212.67" x2="498.67" y2="208.35" stroke="#8da0cb" stroke-width="2.2"/>
<line x1="517.99" y1="212.94" x2="517.99" y2="208.62" stroke="#8da0cb" stroke-width="2.2"/>
<line x1="537.30" y1="213.21" x2="537.30" y2="208.89" stroke="#8da0cb" stroke-width="2.2"/>
<line x1="556.62" y1="213.21" x2="556.62" y2="208.89" stroke="#8da0cb" stroke-width="2.2"/>
<line x1="575.93" y1="212.94" x2="575.93" y2="209.16" stroke="#8da0cb" stroke-width="2.2"/>
<line x1="595.25" y1="212.94" x2="595.25" y2="209.16" stroke="#8da0cb" stroke-width="2.2"/>
<line x1="614.56" y1="212.94" x2="614.56" y2="209.16" stroke="#8da0cb" stroke-width="2.2"/>
<circle cx="363.47" cy="189.47" r="3.0" fill="#8da0cb"/>
<circle cx="382.79" cy="200.80" r="3.0" fill="#8da0cb"/>
<circle cx="402.10" cy="206.73" r="3.0" fill="#8da0cb"/>
<circle cx="421.42" cy="208.08" r="3.0" fill="#8da0cb"/>
<circle cx="440.73" cy="209.16" r="3.0" fill="#8da0cb"/>
<circle cx="460.05" cy="209.70" r="3.0" fill="#8da0cb"/>
<circle cx="479.36" cy="210.24" r="3.0" fill="#8da0cb"/>
<circle cx="498.67" cy="210.51" r="3.0" fill="#8da0cb"/>
<circle cx="517.99" cy="210.78" r="3.0" fill="#8da0cb"/>
<circle cx="537.30" cy="211.05" r="3.0" fill="#8da0cb"/>
<circle cx="556.62" cy="211.05" r="3.0" fill="#8da0cb"/>
<circle cx="575.93" cy="211.05" r="3.0" fill="#8da0cb"/>
<circle cx="595.25" cy="211.05" r="3.0" fill="#8da0cb"/>
<circle cx="614.56" cy="211.05" r="3.0" fill="#8da0cb"/>
<polyline points="364.06,166.54 383.37,194.60 402.69,204.04 422.00,207.00 441.31,208.89 460.63,209.97 479.94,210.78 499.26,211.32 518.57,211.59 537.89,211.86 557.20,211.86 576.51,212.13 595.83,212.13 615.14,212.13" fill="none" stroke="#e78ac3" stroke-width="2.2" stroke-linejoin="round"/>
<line x1="364.06" y1="225.88" x2="364.06" y2="107.21" stroke="#e78ac3" stroke-width="2.2"/>
<line x1="383.37" y1="208.08" x2="383.37" y2="181.11" stroke="#e78ac3" stroke-width="2.2"/>
<line x1="402.69" y1="210.78" x2="402.69" y2="197.29" stroke="#e78ac3" stroke-width="2.2"/>
<line x1="422.00" y1="212.40" x2="422.00" y2="201.61" stroke="#e78ac3" stroke-width="2.2"/>
<line x1="441.31" y1="212.94" x2="441.31" y2="204.84" stroke="#e78ac3" stroke-width="2.2"/>
<line x1="460.63" y1="213.21" x2="460.63" y2="206.73" stroke="#e78ac3" stroke-width="2.2"/>
<line x1="479.94" y1="213.48" x2="479.94" y2="208.08" stroke="#e78ac3" stroke-width="2.2"/>
<line x1="499.26" y1="214.02" x2="499.26" y2="208.62" stroke="#e78ac3" stroke-width="2.2"/>
<line x1="518.57" y1="214.02" x2="518.57" y2="209.16" stroke="#e78ac3" stroke-width="2.2"/>
<line x1="537.89" y1="214.02" x2="537.89" y2="209.70" stroke="#e78ac3" stroke-width="2.2"/>
<line x1="557.20" y1="214.02" x2="557.20" y2="209.70" stroke="#e78ac3" stroke-width="2.2"/>
<line x1="576.51" y1="214.29" x2="576.51" y2="209.97" stroke="#e78ac3" stroke-width="2.2"/>
<line x1="595.83" y1="214.02" x2="595.83" y2="210.24" stroke="#e78ac3" stroke-width="2.2"/>
<line x1="615.14" y1="214.02" x2="615.14" y2="210.24" stroke="#e78ac3" stroke-width="2.2"/>
<circle cx="364.06" cy="166.54" r="3.0" fill="#e78ac3"/>
<circle cx="383.37" cy="194.60" r="3.0" fill="#e78ac3"/>
<circle cx="402.69" cy="204.04" r="3.0" fill="#e78ac3"/>
<circle cx="422.00" cy="207.00" r="3.0" fill="#e78ac3"/>
<circle cx="441.31" cy="208.89" r="3.0" fill="#e78ac3"/>
<circle cx="460.63" cy="209.97" r="3.0" fill="#e78ac3"/>
<circle cx="479.94" cy="210.78" r="3.0" fill="#e78ac3"/>
<circle cx="499.26" cy="211.32" r="3.0" fill="#e78ac3"/>
<circle cx="518.57" cy="211.59" r="3.0" fill="#e78ac3"/>
<circle cx="537.89" cy="211.86" r="3.0" fill="#e78ac3"/>
<circle cx="557.20" cy="211.86" r="3.0" fill="#e78ac3"/>
<circle cx="576.51" cy="212.13" r="3.0" fill="#e78ac3"/>
<circle cx="595.83" cy="212.13" r="3.0" fill="#e78ac3"/>
<circle cx="615.14" cy="212.13" r="3.0" fill="#e78ac3"/>
<polyline points="364.64,185.43 383.95,201.88 403.27,207.00 422.58,209.16 441.90,210.24 461.21,211.32 480.53,212.13 499.84,212.67 519.15,213.21 538.47,213.75 557.78,214.02 577.10,214.29 596.41,214.56 615.73,214.82" fill="none" stroke="#a6d854" stroke-width="2.2" stroke-linejoin="round"/>
<line x1="364.64" y1="225.88" x2="364.64" y2="144.97" stroke="#a6d854" stroke-width="2.2"/>
<line x1="383.95" y1="209.97" x2="383.95" y2="193.79" stroke="#a6d854" stroke-width="2.2"/>
<line x1="403.27" y1="212.40" x2="403.27" y2="201.61" stroke="#a6d854" stroke-width="2.2"/>
<line x1="422.58" y1="213.21" x2="422.58" y2="205.11" stroke="#a6d854" stroke-width="2.2"/>
<line x1="441.90" y1="213.48" x2="441.90" y2="207.00" stroke="#a6d854" stroke-width="2.2"/>
<line x1="461.21" y1="214.02" x2="461.21" y2="208.62" stroke="#a6d854" stroke-width="2.2"/>
<line x1="480.53" y1="214.82" x2="480.53" y2="209.43" stroke="#a6d854" stroke-width="2.2"/>
<line x1="499.84" y1="215.09" x2="499.84" y2="210.24" stroke="#a6d854" stroke-width="2.2"/>
<line x1="519.15" y1="215.63" x2="519.15" y2="210.78" stroke="#a6d854" stroke-width="2.2"/>
<line x1="538.47" y1="215.90" x2="538.47" y2="211.59" stroke="#a6d854" stroke-width="2.2"/>
<line x1="557.78" y1="216.17" x2="557.78" y2="211.86" stroke="#a6d854" stroke-width="2.2"/>
<line x1="577.10" y1="216.44" x2="577.10" y2="212.13" stroke="#a6d854" stroke-width="2.2"/>
<line x1="596.41" y1="216.44" x2="596.41" y2="212.67" stroke="#a6d854" stroke-width="2.2"/>
<line x1="615.73" y1="216.71" x2="615.73" y2="212.94" stroke="#a6d854" stroke-width="2.2"/>
<circle cx="364.64" cy="185.43" r="3.0" fill="#a6d854"/>
<circle cx="383.95" cy="201.88" r="3.0" fill="#a6d854"/>
<circle cx="403.27" cy="207.00" r="3.0" fill="#a6d854"/>
<circle cx="422.58" cy="209.16" r="3.0" fill="#a6d854"/>
<circle cx="441.90" cy="210.24" r="3.0" fill="#a6d854"/>
<circle cx="461.21" cy="211.32" r="3.0" fill="#a6d854"/>
<circle cx="480.53" cy="212.13" r="3.0" fill="#a6d854"/>
<circle cx="499.84" cy="212.67" r="3.0" fill="#a6d854"/>
<circle cx="519.15" cy="213.21" r="3.0" fill="#a6d854"/>
<circle cx="538.47" cy="213.75" r="3.0" fill="#a6d854"/>
<circle cx="557.78" cy="214.02" r="3.0" fill="#a6d854"/>
<circle cx="577.10" cy="214.29" r="3.0" fill="#a6d854"/>
<circle cx="596.41" cy="214.56" r="3.0" fill="#a6d854"/>
<circle cx="615.73" cy="214.82" r="3.0" fill="#a6d854"/>
<polyline points="365.22,89.13 384.54,150.90 403.85,176.52 423.17,190.55 442.48,198.91 461.80,204.04 481.11,209.16 500.42,212.13 519.74,215.36 539.05,218.47 558.37,220.49 577.68,222.51 597.00,224.00 616.31,225.61" fill="none" stroke="#ffd92f" stroke-width="2.2" stroke-linejoin="round"/>
<line x1="365.22" y1="170.05" x2="365.22" y2="8.22" stroke="#ffd92f" stroke-width="2.2"/>
<line x1="384.54" y1="223.73" x2="384.54" y2="78.08" stroke="#ffd92f" stroke-width="2.2"/>
<line x1="403.85" y1="229.93" x2="403.85" y2="127.97" stroke="#ffd92f" stroke-width="2.2"/>
<line x1="423.17" y1="229.93" x2="423.17" y2="153.87" stroke="#ffd92f" stroke-width="2.2"/>
<line x1="442.48" y1="229.93" x2="442.48" y2="169.24" stroke="#ffd92f" stroke-width="2.2"/>
<line x1="461.80" y1="232.09" x2="461.80" y2="178.68" stroke="#ffd92f" stroke-width="2.2"/>
<line x1="481.11" y1="233.03" x2="481.11" y2="187.58" stroke="#ffd92f" stroke-width="2.2"/>
<line x1="500.42" y1="233.97" x2="500.42" y2="193.25" stroke="#ffd92f" stroke-width="2.2"/>
<line x1="519.74" y1="233.97" x2="519.74" y2="199.18" stroke="#ffd92f" stroke-width="2.2"/>
<line x1="539.05" y1="235.05" x2="539.05" y2="204.44" stroke="#ffd92f" stroke-width="2.2"/>
<line x1="558.37" y1="235.05" x2="558.37" y2="208.35" stroke="#ffd92f" stroke-width="2.2"/>
<line x1="577.68" y1="235.05" x2="577.68" y2="211.72" stroke="#ffd92f" stroke-width="2.2"/>
<line x1="597.00" y1="235.05" x2="597.00" y2="214.56" stroke="#ffd92f" stroke-width="2.2"/>
<line x1="616.31" y1="235.05" x2="616.31" y2="217.52" stroke="#ffd92f" stroke-width="2.2"/>
<circle cx="365.22" cy="89.13" r="3.0" fill="#ffd92f"/>
<circle cx="384.54" cy="150.90" r="3.0" fill="#ffd92f"/>
<circle cx="403.85" cy="176.52" r="3.0" fill="#ffd92f"/>
<circle cx="423.17" cy="190.55" r="3.0" fill="#ffd92f"/>
<circle cx="442.48" cy="198.91" r="3.0" fill="#ffd92f"/>
<circle cx="461.80" cy="204.04" r="3.0" fill="#ffd92f"/>
<circle cx="481.11" cy="209.16" r="3.0" fill="#ffd92f"/>
<circle cx="500.42" cy="212.13" r="3.0" fill="#ffd92f"/>
<circle cx="519.74" cy="215.36" r="3.0" fill="#ffd92f"/>
<circle cx="539.05" cy="218.47" r="3.0" fill="#ffd92f"/>
<circle cx="558.37" cy="220.49" r="3.0" fill="#ffd92f"/>
<circle cx="577.68" cy="222.51" r="3.0" fill="#ffd92f"/>
<circle cx="597.00" cy="224.00" r="3.0" fill="#ffd92f"/>
<circle cx="616.31" cy="225.61" r="3.0" fill="#ffd92f"/>
<polyline points="365.81,173.02 385.12,194.60 404.44,202.96 423.75,207.00 443.06,209.70 462.38,211.05 481.69,213.21 501.01,215.09 520.32,216.44 539.64,217.79 558.95,218.87 578.26,219.41 597.58,219.95 616.89,220.49" fill="none" stroke="#e5c494" stroke-width="2.2" stroke-linejoin="round"/>
<line x1="365.81" y1="224.26" x2="365.81" y2="121.77" stroke="#e5c494" stroke-width="2.2"/>
<line x1="385.12" y1="208.08" x2="385.12" y2="181.11" stroke="#e5c494" stroke-width="2.2"/>
<line x1="404.44" y1="211.05" x2="404.44" y2="194.87" stroke="#e5c494" stroke-width="2.2"/>
<line x1="423.75" y1="213.75" x2="423.75" y2="200.26" stroke="#e5c494" stroke-width="2.2"/>
<line x1="443.06" y1="215.63" x2="443.06" y2="203.77" stroke="#e5c494" stroke-width="2.2"/>
<line x1="462.38" y1="216.98" x2="462.38" y2="205.11" stroke="#e5c494" stroke-width="2.2"/>
<line x1="481.69" y1="218.87" x2="481.69" y2="207.54" stroke="#e5c494" stroke-width="2.2"/>
<line x1="501.01" y1="220.49" x2="501.01" y2="209.70" stroke="#e5c494" stroke-width="2.2"/>
<line x1="520.32" y1="221.84" x2="520.32" y2="211.05" stroke="#e5c494" stroke-width="2.2"/>
<line x1="539.64" y1="223.19" x2="539.64" y2="212.40" stroke="#e5c494" stroke-width="2.2"/>
<line x1="558.95" y1="224.26" x2="558.95" y2="213.48" stroke="#e5c494" stroke-width="2.2"/>
<line x1="578.26" y1="224.80" x2="578.26" y2="214.02" stroke="#e5c494" stroke-width="2.2"/>
<line x1="597.58" y1="225.34" x2="597.58" y2="214.56" stroke="#e5c494" stroke-width="2.2"/>
<line x1="616.89" y1="225.88" x2="616.89" y2="215.09" stroke="#e5c494" stroke-width="2.2"/>
<circle cx="365.81" cy="173.02" r="3.0" fill="#e5c494"/>
<circle cx="385.12" cy="194.60" r="3.0" fill="#e5c494"/>
<circle cx="404.44" cy="202.96" r="3.0" fill="#e5c494"/>
<circle cx="423.75" cy="207.00" r="3.0" fill="#e5c494"/>
<circle cx="443.06" cy="209.70" r="3.0" fill="#e5c494"/>
<circle cx="462.38" cy="211.05" r="3.0" fill="#e5c494"/>
<circle cx="481.69" cy="213.21" r="3.0" fill="#e5c494"/>
<circle cx="501.01" cy="215.09" r="3.0" fill="#e5c494"/>
<circle cx="520.32" cy="216.44" r="3.0" fill="#e5c494"/>
<circle cx="539.64" cy="217.79" r="3.0" fill="#e5c494"/>
<circle cx="558.95" cy="218.87" r="3.0" fill="#e5c494"/>
<circle cx="578.26" cy="219.41" r="3.0" fill="#e5c494"/>
<circle cx="597.58" cy="219.95" r="3.0" fill="#e5c494"/>
<circle cx="616.89" cy="220.49" r="3.0" fill="#e5c494"/>
</g>
<defs><clipPath id="clip2"><rect x="669.4" y="15.5" width="270.4" height="242.75"/></clipPath></defs>
<line x1="669.4" y1="234.36" x2="939.8" y2="234.36" stroke="#cccccc" stroke-width="1.1"/>
<text x="661.40" y="237.66" font-size="11.97" text-anchor="end" textLength="14.38" lengthAdjust="spacingAndGlyphs" >60</text>
<line x1="669.4" y1="185.62" x2="939.8" y2="185.62" stroke="#cccccc" stroke-width="1.1"/>
<text x="661.40" y="188.92" font-size="11.97" text-anchor="end" textLength="14.38" lengthAdjust="spacingAndGlyphs" >80</text>
<line x1="669.4" y1="136.88" x2="939.8" y2="136.88" stroke="#cccccc" stroke-width="1.1"/>
<text x="661.40" y="140.18" font-size="11.97" text-anchor="end" textLength="21.57" lengthAdjust="spacingAndGlyphs" >100</text>
<line x1="669.4" y1="88.13" x2="939.8" y2="88.13" stroke="#cccccc" stroke-width="1.1"/>
<text x="661.40" y="91.43" font-size="11.97" text-anchor="end" textLength="21.57" lengthAdjust="spacingAndGlyphs" >120</text>
<line x1="669.4" y1="39.39" x2="939.8" y2="39.39" stroke="#cccccc" stroke-width="1.1"/>
<text x="661.40" y="42.69" font-size="11.97" text-anchor="end" textLength="21.57" lengthAdjust="spacingAndGlyphs" >140</text>
<line x1="669.4" y1="15.5" x2="669.4" y2="258.25" stroke="#cccccc" stroke-width="1.1" stroke-linecap="square"/>
<line x1="669.4" y1="258.25" x2="939.8" y2="258.25" stroke="#cccccc" stroke-width="1.1" stroke-linecap="square"/>
<text x="679.06" y="274.70" font-size="11.87" text-anchor="middle" textLength="7.13" lengthAdjust="spacingAndGlyphs" >5</text>
<text x="698.37" y="274.70" font-size="11.87" text-anchor="middle" textLength="14.25" lengthAdjust="spacingAndGlyphs" >10</text>
<text x="717.69" y="274.70" font-size="11.87" text-anchor="middle" textLength="14.25" lengthAdjust="spacingAndGlyphs" >15</text>
<text x="737.00" y="274.70" font-size="11.87" text-anchor="middle" textLength="14.25" lengthAdjust="spacingAndGlyphs" >20</text>
<text x="756.31" y="274.70" font-size="11.87" text-anchor="middle" textLength="14.25" lengthAdjust="spacingAndGlyphs" >25</text>
<text x="775.63" y="274.70" font-size="11.87" text-anchor="middle" textLength="14.25" lengthAdjust="spacingAndGlyphs" >30</text>
<text x="794.94" y="274.70" font-size="11.87" text-anchor="middle" textLength="14.25" lengthAdjust="spacingAndGlyphs" >35</text>
<text x="814.26" y="274.70" font-size="11.87" text-anchor="middle" textLength="14.25" lengthAdjust="spacingAndGlyphs" >40</text>
<text x="833.57" y="274.70" font-size="11.87" text-anchor="middle" textLength="14.25" lengthAdjust="spacingAndGlyphs" >45</text>
<text x="852.89" y="274.70" font-size="11.87" text-anchor="middle" textLength="14.25" lengthAdjust="spacingAndGlyphs" >50</text>
<text x="872.20" y="274.70" font-size="11.87" text-anchor="middle" textLength="14.25" lengthAdjust="spacingAndGlyphs" >55</text>
<text x="891.51" y="274.70" font-size="11.87" text-anchor="middle" textLength="14.25" lengthAdjust="spacingAndGlyphs" >60</text>
<text x="910.83" y="274.70" font-size="11.87" text-anchor="middle" textLength="14.25" lengthAdjust="spacingAndGlyphs" >65</text>
<text x="930.14" y="274.70" font-size="11.87" text-anchor="middle" textLength="14.25" lengthAdjust="spacingAndGlyphs" >70</text>
<text x="804.60" y="292.10" font-size="12.72" text-anchor="middle" textLength="43.16" lengthAdjust="spacingAndGlyphs" >Budget</text>
<text x="804.60" y="9.86" font-size="13.24" text-anchor="middle" textLength="122.94" lengthAdjust="spacingAndGlyphs" >Data set = CIFAR10</text>
<g clip-path="url(#clip2)" stroke-linecap="butt">
<polyline points="677.31,106.17 696.62,151.01 715.94,164.42 735.25,172.70 754.56,178.31 773.88,181.48 793.19,184.89 812.51,187.81 831.82,189.76 851.14,191.23 870.45,192.44 889.76,194.64 909.08,195.37 928.39,196.34" fill="none" stroke="#66c2a5" stroke-width="2.2" stroke-linejoin="round"/>
<line x1="677.31" y1="167.10" x2="677.31" y2="45.23" stroke="#66c2a5" stroke-width="2.2"/>
<line x1="696.62" y1="192.93" x2="696.62" y2="109.09" stroke="#66c2a5" stroke-width="2.2"/>
<line x1="715.94" y1="194.88" x2="715.94" y2="133.95" stroke="#66c2a5" stroke-width="2.2"/>
<line x1="735.25" y1="198.54" x2="735.25" y2="146.87" stroke="#66c2a5" stroke-width="2.2"/>
<line x1="754.56" y1="199.51" x2="754.56" y2="157.10" stroke="#66c2a5" stroke-width="2.2"/>
<line x1="773.88" y1="200.00" x2="773.88" y2="162.95" stroke="#66c2a5" stroke-width="2.2"/>
<line x1="793.19" y1="200.49" x2="793.19" y2="169.29" stroke="#66c2a5" stroke-width="2.2"/>
<line x1="812.51" y1="202.19" x2="812.51" y2="173.43" stroke="#66c2a5" stroke-width="2.2"/>
<line x1="831.82" y1="203.17" x2="831.82" y2="176.36" stroke="#66c2a5" stroke-width="2.2"/>
<line x1="851.14" y1="203.41" x2="851.14" y2="179.04" stroke="#66c2a5" stroke-width="2.2"/>
<line x1="870.45" y1="202.68" x2="870.45" y2="182.21" stroke="#66c2a5" stroke-width="2.2"/>
<line x1="889.76" y1="204.39" x2="889.76" y2="184.89" stroke="#66c2a5" stroke-width="2.2"/>
<line x1="909.08" y1="203.66" x2="909.08" y2="187.08" stroke="#66c2a5" stroke-width="2.2"/>
<line x1="928.39" y1="203.41" x2="928.39" y2="189.28" stroke="#66c2a5" stroke-width="2.2"/>
<circle cx="677.31" cy="106.17" r="3.0" fill="#66c2a5"/>
<circle cx="696.62" cy="151.01" r="3.0" fill="#66c2a5"/>
<circle cx="715.94" cy="164.42" r="3.0" fill="#66c2a5"/>
<circle cx="735.25" cy="172.70" r="3.0" fill="#66c2a5"/>
<circle cx="754.56" cy="178.31" r="3.0" fill="#66c2a5"/>
<circle cx="773.88" cy="181.48" r="3.0" fill="#66c2a5"/>
<circle cx="793.19" cy="184.89" r="3.0" fill="#66c2a5"/>
<circle cx="812.51" cy="187.81" r="3.0" fill="#66c2a5"/>
<circle cx="831.82" cy="189.76" r="3.0" fill="#66c2a5"/>
<circle cx="851.14" cy="191.23" r="3.0" fill="#66c2a5"/>
<circle cx="870.45" cy="192.44" r="3.0" fill="#66c2a5"/>
<circle cx="889.76" cy="194.64" r="3.0" fill="#66c2a5"/>
<circle cx="909.08" cy="195.37" r="3.0" fill="#66c2a5"/>
<circle cx="928.39" cy="196.34" r="3.0" fill="#66c2a5"/>
<polyline points="677.89,97.39 697.20,149.06 716.52,182.70 735.83,194.88 755.15,200.24 774.46,203.17 793.78,204.87 813.09,206.09 832.40,207.31 851.72,208.77 871.03,209.51 890.35,210.24 909.66,210.72 928.98,211.21" fill="none" stroke="#fc8d62" stroke-width="2.2" stroke-linejoin="round"/>
<line x1="677.89" y1="194.88" x2="677.89" y2="-0.10" stroke="#fc8d62" stroke-width="2.2"/>
<line x1="697.20" y1="207.56" x2="697.20" y2="90.57" stroke="#fc8d62" stroke-width="2.2"/>
<line x1="716.52" y1="225.10" x2="716.52" y2="140.29" stroke="#fc8d62" stroke-width="2.2"/>
<line x1="735.83" y1="225.35" x2="735.83" y2="164.42" stroke="#fc8d62" stroke-width="2.2"/>
<line x1="755.15" y1="212.43" x2="755.15" y2="188.06" stroke="#fc8d62" stroke-width="2.2"/>
<line x1="774.46" y1="217.79" x2="774.46" y2="188.54" stroke="#fc8d62" stroke-width="2.2"/>
<line x1="793.78" y1="214.62" x2="793.78" y2="195.13" stroke="#fc8d62" stroke-width="2.2"/>
<line x1="813.09" y1="214.62" x2="813.09" y2="197.56" stroke="#fc8d62" stroke-width="2.2"/>
<line x1="832.40" y1="214.62" x2="832.40" y2="200.00" stroke="#fc8d62" stroke-width="2.2"/>
<line x1="851.72" y1="214.87" x2="851.72" y2="202.68" stroke="#fc8d62" stroke-width="2.2"/>
<line x1="871.03" y1="214.87" x2="871.03" y2="204.14" stroke="#fc8d62" stroke-width="2.2"/>
<line x1="890.35" y1="215.11" x2="890.35" y2="205.36" stroke="#fc8d62" stroke-width="2.2"/>
<line x1="909.66" y1="215.60" x2="909.66" y2="205.85" stroke="#fc8d62" stroke-width="2.2"/>
<line x1="928.98" y1="216.09" x2="928.98" y2="206.34" stroke="#fc8d62" stroke-width="2.2"/>
<circle cx="677.89" cy="97.39" r="3.0" fill="#fc8d62"/>
<circle cx="697.20" cy="149.06" r="3.0" fill="#fc8d62"/>
<circle cx="716.52" cy="182.70" r="3.0" fill="#fc8d62"/>
<circle cx="735.83" cy="194.88" r="3.0" fill="#fc8d62"/>
<circle cx="755.15" cy="200.24" r="3.0" fill="#fc8d62"/>
<circle cx="774.46" cy="203.17" r="3.0" fill="#fc8d62"/>
<circle cx="793.78" cy="204.87" r="3.0" fill="#fc8d62"/>
<circle cx="813.09" cy="206.09" r="3.0" fill="#fc8d62"/>
<circle cx="832.40" cy="207.31" r="3.0" fill="#fc8d62"/>
<circle cx="851.72" cy="208.77" r="3.0" fill="#fc8d62"/>
<circle cx="871.03" cy="209.51" r="3.0" fill="#fc8d62"/>
<circle cx="890.35" cy="210.24" r="3.0" fill="#fc8d62"/>
<circle cx="909.66" cy="210.72" r="3.0" fill="#fc8d62"/>
<circle cx="928.98" cy="211.21" r="3.0" fill="#fc8d62"/>
<polyline points="678.47,173.19 697.79,202.19 717.10,208.29 736.42,211.45 755.73,214.62 775.05,216.82 794.36,217.79 813.67,218.77 832.99,219.38 852.30,219.74 871.62,220.23 890.93,220.23 910.25,220.35 929.56,220.84" fill="none" stroke="#8da0cb" stroke-width="2.2" stroke-linejoin="round"/>
<line x1="678.47" y1="234.12" x2="678.47" y2="112.26" stroke="#8da0cb" stroke-width="2.2"/>
<line x1="697.79" y1="214.38" x2="697.79" y2="190.01" stroke="#8da0cb" stroke-width="2.2"/>
<line x1="717.10" y1="214.38" x2="717.10" y2="202.19" stroke="#8da0cb" stroke-width="2.2"/>
<line x1="736.42" y1="216.33" x2="736.42" y2="206.58" stroke="#8da0cb" stroke-width="2.2"/>
<line x1="755.73" y1="218.28" x2="755.73" y2="210.97" stroke="#8da0cb" stroke-width="2.2"/>
<line x1="775.05" y1="219.74" x2="775.05" y2="213.89" stroke="#8da0cb" stroke-width="2.2"/>
<line x1="794.36" y1="220.23" x2="794.36" y2="215.35" stroke="#8da0cb" stroke-width="2.2"/>
<line x1="813.67" y1="221.20" x2="813.67" y2="216.33" stroke="#8da0cb" stroke-width="2.2"/>
<line x1="832.99" y1="221.33" x2="832.99" y2="217.43" stroke="#8da0cb" stroke-width="2.2"/>
<line x1="852.30" y1="221.69" x2="852.30" y2="217.79" stroke="#8da0cb" stroke-width="2.2"/>
<line x1="871.62" y1="222.18" x2="871.62" y2="218.28" stroke="#8da0cb" stroke-width="2.2"/>
<line x1="890.93" y1="221.93" x2="890.93" y2="218.52" stroke="#8da0cb" stroke-width="2.2"/>
<line x1="910.25" y1="222.06" x2="910.25" y2="218.64" stroke="#8da0cb" stroke-width="2.2"/>
<line x1="929.56" y1="222.54" x2="929.56" y2="219.13" stroke="#8da0cb" stroke-width="2.2"/>
<circle cx="678.47" cy="173.19" r="3.0" fill="#8da0cb"/>
<circle cx="697.79" cy="202.19" r="3.0" fill="#8da0cb"/>
<circle cx="717.10" cy="208.29" r="3.0" fill="#8da0cb"/>
<circle cx="736.42" cy="211.45" r="3.0" fill="#8da0cb"/>
<circle cx="755.73" cy="214.62" r="3.0" fill="#8da0cb"/>
<circle cx="775.05" cy="216.82" r="3.0" fill="#8da0cb"/>
<circle cx="794.36" cy="217.79" r="3.0" fill="#8da0cb"/>
<circle cx="813.67" cy="218.77" r="3.0" fill="#8da0cb"/>
<circle cx="832.99" cy="219.38" r="3.0" fill="#8da0cb"/>
<circle cx="852.30" cy="219.74" r="3.0" fill="#8da0cb"/>
<circle cx="871.62" cy="220.23" r="3.0" fill="#8da0cb"/>
<circle cx="890.93" cy="220.23" r="3.0" fill="#8da0cb"/>
<circle cx="910.25" cy="220.35" r="3.0" fill="#8da0cb"/>
<circle cx="929.56" cy="220.84" r="3.0" fill="#8da0cb"/>
<polyline points="679.06,156.37 698.37,190.49 717.69,197.08 737.00,203.17 756.31,206.34 775.63,207.31 794.94,208.04 814.26,208.41 833.57,208.90 852.89,209.51 872.20,209.75 891.51,210.48 910.83,210.97 930.14,211.45" fill="none" stroke="#e78ac3" stroke-width="2.2" stroke-linejoin="round"/>
<line x1="679.06" y1="229.49" x2="679.06" y2="83.26" stroke="#e78ac3" stroke-width="2.2"/>
<line x1="698.37" y1="209.99" x2="698.37" y2="171.00" stroke="#e78ac3" stroke-width="2.2"/>
<line x1="717.69" y1="206.82" x2="717.69" y2="187.33" stroke="#e78ac3" stroke-width="2.2"/>
<line x1="737.00" y1="210.48" x2="737.00" y2="195.86" stroke="#e78ac3" stroke-width="2.2"/>
<line x1="756.31" y1="212.43" x2="756.31" y2="200.24" stroke="#e78ac3" stroke-width="2.2"/>
<line x1="775.63" y1="212.19" x2="775.63" y2="202.44" stroke="#e78ac3" stroke-width="2.2"/>
<line x1="794.94" y1="212.43" x2="794.94" y2="203.66" stroke="#e78ac3" stroke-width="2.2"/>
<line x1="814.26" y1="212.31" x2="814.26" y2="204.51" stroke="#e78ac3" stroke-width="2.2"/>
<line x1="833.57" y1="212.55" x2="833.57" y2="205.24" stroke="#e78ac3" stroke-width="2.2"/>
<line x1="852.89" y1="212.92" x2="852.89" y2="206.09" stroke="#e78ac3" stroke-width="2.2"/>
<line x1="872.20" y1="212.92" x2="872.20" y2="206.58" stroke="#e78ac3" stroke-width="2.2"/>
<line x1="891.51" y1="213.40" x2="891.51" y2="207.56" stroke="#e78ac3" stroke-width="2.2"/>
<line x1="910.83" y1="213.89" x2="910.83" y2="208.04" stroke="#e78ac3" stroke-width="2.2"/>
<line x1="930.14" y1="214.38" x2="930.14" y2="208.53" stroke="#e78ac3" stroke-width="2.2"/>
<circle cx="679.06" cy="156.37" r="3.0" fill="#e78ac3"/>
<circle cx="698.37" cy="190.49" r="3.0" fill="#e78ac3"/>
<circle cx="717.69" cy="197.08" r="3.0" fill="#e78ac3"/>
<circle cx="737.00" cy="203.17" r="3.0" fill="#e78ac3"/>
<circle cx="756.31" cy="206.34" r="3.0" fill="#e78ac3"/>
<circle cx="775.63" cy="207.31" r="3.0" fill="#e78ac3"/>
<circle cx="794.94" cy="208.04" r="3.0" fill="#e78ac3"/>
<circle cx="814.26" cy="208.41" r="3.0" fill="#e78ac3"/>
<circle cx="833.57" cy="208.90" r="3.0" fill="#e78ac3"/>
<circle cx="852.89" cy="209.51" r="3.0" fill="#e78ac3"/>
<circle cx="872.20" cy="209.75" r="3.0" fill="#e78ac3"/>
<circle cx="891.51" cy="210.48" r="3.0" fill="#e78ac3"/>
<circle cx="910.83" cy="210.97" r="3.0" fill="#e78ac3"/>
<circle cx="930.14" cy="211.45" r="3.0" fill="#e78ac3"/>
<polyline points="679.64,190.74 698.95,211.45 718.27,222.91 737.58,229.00 756.90,232.17 776.21,235.34 795.53,236.80 814.84,238.39 834.15,239.97 853.47,240.46 872.78,241.43 892.10,242.53 911.41,243.14 930.73,243.63" fill="none" stroke="#a6d854" stroke-width="2.2" stroke-linejoin="round"/>
<line x1="679.64" y1="227.30" x2="679.64" y2="154.18" stroke="#a6d854" stroke-width="2.2"/>
<line x1="698.95" y1="221.20" x2="698.95" y2="201.71" stroke="#a6d854" stroke-width="2.2"/>
<line x1="718.27" y1="230.22" x2="718.27" y2="215.60" stroke="#a6d854" stroke-width="2.2"/>
<line x1="737.58" y1="235.10" x2="737.58" y2="222.91" stroke="#a6d854" stroke-width="2.2"/>
<line x1="756.90" y1="237.05" x2="756.90" y2="227.30" stroke="#a6d854" stroke-width="2.2"/>
<line x1="776.21" y1="239.00" x2="776.21" y2="231.68" stroke="#a6d854" stroke-width="2.2"/>
<line x1="795.53" y1="239.73" x2="795.53" y2="233.88" stroke="#a6d854" stroke-width="2.2"/>
<line x1="814.84" y1="241.31" x2="814.84" y2="235.46" stroke="#a6d854" stroke-width="2.2"/>
<line x1="834.15" y1="242.41" x2="834.15" y2="237.53" stroke="#a6d854" stroke-width="2.2"/>
<line x1="853.47" y1="242.90" x2="853.47" y2="238.02" stroke="#a6d854" stroke-width="2.2"/>
<line x1="872.78" y1="243.87" x2="872.78" y2="239.00" stroke="#a6d854" stroke-width="2.2"/>
<line x1="892.10" y1="244.72" x2="892.10" y2="240.34" stroke="#a6d854" stroke-width="2.2"/>
<line x1="911.41" y1="245.33" x2="911.41" y2="240.95" stroke="#a6d854" stroke-width="2.2"/>
<line x1="930.73" y1="245.82" x2="930.73" y2="241.43" stroke="#a6d854" stroke-width="2.2"/>
<circle cx="679.64" cy="190.74" r="3.0" fill="#a6d854"/>
<circle cx="698.95" cy="211.45" r="3.0" fill="#a6d854"/>
<circle cx="718.27" cy="222.91" r="3.0" fill="#a6d854"/>
<circle cx="737.58" cy="229.00" r="3.0" fill="#a6d854"/>
<circle cx="756.90" cy="232.17" r="3.0" fill="#a6d854"/>
<circle cx="776.21" cy="235.34" r="3.0" fill="#a6d854"/>
<circle cx="795.53" cy="236.80" r="3.0" fill="#a6d854"/>
<circle cx="814.84" cy="238.39" r="3.0" fill="#a6d854"/>
<circle cx="834.15" cy="239.97" r="3.0" fill="#a6d854"/>
<circle cx="853.47" cy="240.46" r="3.0" fill="#a6d854"/>
<circle cx="872.78" cy="241.43" r="3.0" fill="#a6d854"/>
<circle cx="892.10" cy="242.53" r="3.0" fill="#a6d854"/>
<circle cx="911.41" cy="243.14" r="3.0" fill="#a6d854"/>
<circle cx="930.73" cy="243.63" r="3.0" fill="#a6d854"/>
<polyline points="680.22,120.55 699.54,172.22 718.85,194.88 738.17,204.39 757.48,212.67 776.80,220.23 796.11,224.86 815.42,228.52 834.74,231.20 854.05,232.90 873.37,235.34 892.68,237.41 912.00,238.02 931.31,239.48" fill="none" stroke="#ffd92f" stroke-width="2.2" stroke-linejoin="round"/>
<line x1="680.22" y1="213.16" x2="680.22" y2="27.93" stroke="#ffd92f" stroke-width="2.2"/>
<line x1="699.54" y1="232.17" x2="699.54" y2="112.26" stroke="#ffd92f" stroke-width="2.2"/>
<line x1="718.85" y1="238.75" x2="718.85" y2="151.01" stroke="#ffd92f" stroke-width="2.2"/>
<line x1="738.17" y1="233.63" x2="738.17" y2="175.14" stroke="#ffd92f" stroke-width="2.2"/>
<line x1="757.48" y1="237.05" x2="757.48" y2="188.30" stroke="#ffd92f" stroke-width="2.2"/>
<line x1="776.80" y1="239.73" x2="776.80" y2="200.73" stroke="#ffd92f" stroke-width="2.2"/>
<line x1="796.11" y1="248.74" x2="796.11" y2="200.97" stroke="#ffd92f" stroke-width="2.2"/>
<line x1="815.42" y1="249.72" x2="815.42" y2="207.31" stroke="#ffd92f" stroke-width="2.2"/>
<line x1="834.74" y1="250.69" x2="834.74" y2="211.70" stroke="#ffd92f" stroke-width="2.2"/>
<line x1="854.05" y1="251.18" x2="854.05" y2="214.62" stroke="#ffd92f" stroke-width="2.2"/>
<line x1="873.37" y1="252.40" x2="873.37" y2="218.28" stroke="#ffd92f" stroke-width="2.2"/>
<line x1="892.68" y1="253.98" x2="892.68" y2="220.84" stroke="#ffd92f" stroke-width="2.2"/>
<line x1="912.00" y1="253.86" x2="912.00" y2="222.18" stroke="#ffd92f" stroke-width="2.2"/>
<line x1="931.31" y1="254.11" x2="931.31" y2="224.86" stroke="#ffd92f" stroke-width="2.2"/>
<circle cx="680.22" cy="120.55" r="3.0" fill="#ffd92f"/>
<circle cx="699.54" cy="172.22" r="3.0" fill="#ffd92f"/>
<circle cx="718.85" cy="194.88" r="3.0" fill="#ffd92f"/>
<circle cx="738.17" cy="204.39" r="3.0" fill="#ffd92f"/>
<circle cx="757.48" cy="212.67" r="3.0" fill="#ffd92f"/>
<circle cx="776.80" cy="220.23" r="3.0" fill="#ffd92f"/>
<circle cx="796.11" cy="224.86" r="3.0" fill="#ffd92f"/>
<circle cx="815.42" cy="228.52" r="3.0" fill="#ffd92f"/>
<circle cx="834.74" cy="231.20" r="3.0" fill="#ffd92f"/>
<circle cx="854.05" cy="232.90" r="3.0" fill="#ffd92f"/>
<circle cx="873.37" cy="235.34" r="3.0" fill="#ffd92f"/>
<circle cx="892.68" cy="237.41" r="3.0" fill="#ffd92f"/>
<circle cx="912.00" cy="238.02" r="3.0" fill="#ffd92f"/>
<circle cx="931.31" cy="239.48" r="3.0" fill="#ffd92f"/>
<polyline points="680.81,155.15 700.12,199.02 719.44,214.62 738.75,227.05 758.06,232.17 777.38,236.31 796.69,238.39 816.01,240.95 835.32,242.16 854.64,242.53 873.95,243.14 893.26,243.63 912.58,244.24 931.89,244.60" fill="none" stroke="#e5c494" stroke-width="2.2" stroke-linejoin="round"/>
<line x1="680.81" y1="228.27" x2="680.81" y2="82.04" stroke="#e5c494" stroke-width="2.2"/>
<line x1="700.12" y1="249.72" x2="700.12" y2="148.33" stroke="#e5c494" stroke-width="2.2"/>
<line x1="719.44" y1="253.62" x2="719.44" y2="175.63" stroke="#e5c494" stroke-width="2.2"/>
<line x1="738.75" y1="252.89" x2="738.75" y2="201.22" stroke="#e5c494" stroke-width="2.2"/>
<line x1="758.06" y1="252.64" x2="758.06" y2="211.70" stroke="#e5c494" stroke-width="2.2"/>
<line x1="777.38" y1="251.91" x2="777.38" y2="220.72" stroke="#e5c494" stroke-width="2.2"/>
<line x1="796.69" y1="251.79" x2="796.69" y2="224.98" stroke="#e5c494" stroke-width="2.2"/>
<line x1="816.01" y1="250.94" x2="816.01" y2="230.95" stroke="#e5c494" stroke-width="2.2"/>
<line x1="835.32" y1="251.43" x2="835.32" y2="232.90" stroke="#e5c494" stroke-width="2.2"/>
<line x1="854.64" y1="250.82" x2="854.64" y2="234.24" stroke="#e5c494" stroke-width="2.2"/>
<line x1="873.95" y1="249.48" x2="873.95" y2="236.80" stroke="#e5c494" stroke-width="2.2"/>
<line x1="893.26" y1="248.99" x2="893.26" y2="238.26" stroke="#e5c494" stroke-width="2.2"/>
<line x1="912.58" y1="247.89" x2="912.58" y2="240.58" stroke="#e5c494" stroke-width="2.2"/>
<line x1="931.89" y1="247.53" x2="931.89" y2="241.68" stroke="#e5c494" stroke-width="2.2"/>
<circle cx="680.81" cy="155.15" r="3.0" fill="#e5c494"/>
<circle cx="700.12" cy="199.02" r="3.0" fill="#e5c494"/>
<circle cx="719.44" cy="214.62" r="3.0" fill="#e5c494"/>
<circle cx="738.75" cy="227.05" r="3.0" fill="#e5c494"/>
<circle cx="758.06" cy="232.17" r="3.0" fill="#e5c494"/>
<circle cx="777.38" cy="236.31" r="3.0" fill="#e5c494"/>
<circle cx="796.69" cy="238.39" r="3.0" fill="#e5c494"/>
<circle cx="816.01" cy="240.95" r="3.0" fill="#e5c494"/>
<circle cx="835.32" cy="242.16" r="3.0" fill="#e5c494"/>
<circle cx="854.64" cy="242.53" r="3.0" fill="#e5c494"/>
<circle cx="873.95" cy="243.14" r="3.0" fill="#e5c494"/>
<circle cx="893.26" cy="243.63" r="3.0" fill="#e5c494"/>
<circle cx="912.58" cy="244.24" r="3.0" fill="#e5c494"/>
<circle cx="931.89" cy="244.60" r="3.0" fill="#e5c494"/>
</g>
<defs><clipPath id="clip3"><rect x="983.5" y="15.5" width="270.4" height="242.75"/></clipPath></defs>
<line x1="983.5" y1="222.41" x2="1253.9" y2="222.41" stroke="#cccccc" stroke-width="1.1"/>
<text x="975.50" y="225.71" font-size="11.97" text-anchor="end" textLength="14.38" lengthAdjust="spacingAndGlyphs" >40</text>
<line x1="983.5" y1="173.64" x2="1253.9" y2="173.64" stroke="#cccccc" stroke-width="1.1"/>
<text x="975.50" y="176.94" font-size="11.97" text-anchor="end" textLength="14.38" lengthAdjust="spacingAndGlyphs" >60</text>
<line x1="983.5" y1="124.88" x2="1253.9" y2="124.88" stroke="#cccccc" stroke-width="1.1"/>
<text x="975.50" y="128.18" font-size="11.97" text-anchor="end" textLength="14.38" lengthAdjust="spacingAndGlyphs" >80</text>
<line x1="983.5" y1="76.11" x2="1253.9" y2="76.11" stroke="#cccccc" stroke-width="1.1"/>
<text x="975.50" y="79.41" font-size="11.97" text-anchor="end" textLength="21.57" lengthAdjust="spacingAndGlyphs" >100</text>
<line x1="983.5" y1="27.35" x2="1253.9" y2="27.35" stroke="#cccccc" stroke-width="1.1"/>
<text x="975.50" y="30.65" font-size="11.97" text-anchor="end" textLength="21.57" lengthAdjust="spacingAndGlyphs" >120</text>
<line x1="983.5" y1="15.5" x2="983.5" y2="258.25" stroke="#cccccc" stroke-width="1.1" stroke-linecap="square"/>
<line x1="983.5" y1="258.25" x2="1253.9" y2="258.25" stroke="#cccccc" stroke-width="1.1" stroke-linecap="square"/>
<text x="993.16" y="274.70" font-size="11.87" text-anchor="middle" textLength="7.13" lengthAdjust="spacingAndGlyphs" >5</text>
<text x="1012.47" y="274.70" font-size="11.87" text-anchor="middle" textLength="14.25" lengthAdjust="spacingAndGlyphs" >10</text>
<text x="1031.79" y="274.70" font-size="11.87" text-anchor="middle" textLength="14.25" lengthAdjust="spacingAndGlyphs" >15</text>
<text x="1051.10" y="274.70" font-size="11.87" text-anchor="middle" textLength="14.25" lengthAdjust="spacingAndGlyphs" >20</text>
<text x="1070.41" y="274.70" font-size="11.87" text-anchor="middle" textLength="14.25" lengthAdjust="spacingAndGlyphs" >25</text>
<text x="1089.73" y="274.70" font-size="11.87" text-anchor="middle" textLength="14.25" lengthAdjust="spacingAndGlyphs" >30</text>
<text x="1109.04" y="274.70" font-size="11.87" text-anchor="middle" textLength="14.25" lengthAdjust="spacingAndGlyphs" >35</text>
<text x="1128.36" y="274.70" font-size="11.87" text-anchor="middle" textLength="14.25" lengthAdjust="spacingAndGlyphs" >40</text>
<text x="1147.67" y="274.70" font-size="11.87" text-anchor="middle" textLength="14.25" lengthAdjust="spacingAndGlyphs" >45</text>
<text x="1166.99" y="274.70" font-size="11.87" text-anchor="middle" textLength="14.25" lengthAdjust="spacingAndGlyphs" >50</text>
<text x="1186.30" y="274.70" font-size="11.87" text-anchor="middle" textLength="14.25" lengthAdjust="spacingAndGlyphs" >55</text>
<text x="1205.61" y="274.70" font-size="11.87" text-anchor="middle" textLength="14.25" lengthAdjust="spacingAndGlyphs" >60</text>
<text x="1224.93" y="274.70" font-size="11.87" text-anchor="middle" textLength="14.25" lengthAdjust="spacingAndGlyphs" >65</text>
<text x="1244.24" y="274.70" font-size="11.87" text-anchor="middle" textLength="14.25" lengthAdjust="spacingAndGlyphs" >70</text>
<text x="1118.70" y="292.10" font-size="12.72" text-anchor="middle" textLength="43.16" lengthAdjust="spacingAndGlyphs" >Budget</text>
<text x="1118.70" y="9.86" font-size="13.24" text-anchor="middle" textLength="119.96" lengthAdjust="spacingAndGlyphs" >Data set = CELEBA</text>
<g clip-path="url(#clip3)" stroke-linecap="butt">
<polyline points="991.41,153.16 1010.72,192.42 1030.04,202.78 1049.35,208.02 1068.66,211.19 1087.98,214.85 1107.29,216.92 1126.61,218.02 1145.92,218.99 1165.24,220.46 1184.55,222.16 1203.86,223.14 1223.18,223.63 1242.49,224.60" fill="none" stroke="#66c2a5" stroke-width="2.2" stroke-linejoin="round"/>
<line x1="991.41" y1="250.69" x2="991.41" y2="55.63" stroke="#66c2a5" stroke-width="2.2"/>
<line x1="1010.72" y1="223.14" x2="1010.72" y2="161.70" stroke="#66c2a5" stroke-width="2.2"/>
<line x1="1030.04" y1="224.72" x2="1030.04" y2="180.84" stroke="#66c2a5" stroke-width="2.2"/>
<line x1="1049.35" y1="225.33" x2="1049.35" y2="190.71" stroke="#66c2a5" stroke-width="2.2"/>
<line x1="1068.66" y1="227.04" x2="1068.66" y2="195.34" stroke="#66c2a5" stroke-width="2.2"/>
<line x1="1087.98" y1="228.26" x2="1087.98" y2="201.44" stroke="#66c2a5" stroke-width="2.2"/>
<line x1="1107.29" y1="228.26" x2="1107.29" y2="205.58" stroke="#66c2a5" stroke-width="2.2"/>
<line x1="1126.61" y1="228.99" x2="1126.61" y2="207.05" stroke="#66c2a5" stroke-width="2.2"/>
<line x1="1145.92" y1="230.33" x2="1145.92" y2="207.66" stroke="#66c2a5" stroke-width="2.2"/>
<line x1="1165.24" y1="231.43" x2="1165.24" y2="209.49" stroke="#66c2a5" stroke-width="2.2"/>
<line x1="1184.55" y1="232.40" x2="1184.55" y2="211.92" stroke="#66c2a5" stroke-width="2.2"/>
<line x1="1203.86" y1="232.40" x2="1203.86" y2="213.87" stroke="#66c2a5" stroke-width="2.2"/>
<line x1="1223.18" y1="232.40" x2="1223.18" y2="214.85" stroke="#66c2a5" stroke-width="2.2"/>
<line x1="1242.49" y1="232.40" x2="1242.49" y2="216.80" stroke="#66c2a5" stroke-width="2.2"/>
<circle cx="991.41" cy="153.16" r="3.0" fill="#66c2a5"/>
<circle cx="1010.72" cy="192.42" r="3.0" fill="#66c2a5"/>
<circle cx="1030.04" cy="202.78" r="3.0" fill="#66c2a5"/>
<circle cx="1049.35" cy="208.02" r="3.0" fill="#66c2a5"/>
<circle cx="1068.66" cy="211.19" r="3.0" fill="#66c2a5"/>
<circle cx="1087.98" cy="214.85" r="3.0" fill="#66c2a5"/>
<circle cx="1107.29" cy="216.92" r="3.0" fill="#66c2a5"/>
<circle cx="1126.61" cy="218.02" r="3.0" fill="#66c2a5"/>
<circle cx="1145.92" cy="218.99" r="3.0" fill="#66c2a5"/>
<circle cx="1165.24" cy="220.46" r="3.0" fill="#66c2a5"/>
<circle cx="1184.55" cy="222.16" r="3.0" fill="#66c2a5"/>
<circle cx="1203.86" cy="223.14" r="3.0" fill="#66c2a5"/>
<circle cx="1223.18" cy="223.63" r="3.0" fill="#66c2a5"/>
<circle cx="1242.49" cy="224.60" r="3.0" fill="#66c2a5"/>
<polyline points="991.99,82.82 1011.30,159.26 1030.62,184.13 1049.93,190.35 1069.25,194.86 1088.56,198.27 1107.88,201.68 1127.19,203.88 1146.50,205.95 1165.82,207.41 1185.13,209.00 1204.45,210.70 1223.76,211.56 1243.08,213.14" fill="none" stroke="#fc8d62" stroke-width="2.2" stroke-linejoin="round"/>
<line x1="991.99" y1="168.16" x2="991.99" y2="-2.52" stroke="#fc8d62" stroke-width="2.2"/>
<line x1="1011.30" y1="220.95" x2="1011.30" y2="97.57" stroke="#fc8d62" stroke-width="2.2"/>
<line x1="1030.62" y1="222.65" x2="1030.62" y2="145.60" stroke="#fc8d62" stroke-width="2.2"/>
<line x1="1049.93" y1="209.85" x2="1049.93" y2="170.84" stroke="#fc8d62" stroke-width="2.2"/>
<line x1="1069.25" y1="209.49" x2="1069.25" y2="180.23" stroke="#fc8d62" stroke-width="2.2"/>
<line x1="1088.56" y1="210.46" x2="1088.56" y2="186.08" stroke="#fc8d62" stroke-width="2.2"/>
<line x1="1107.88" y1="213.39" x2="1107.88" y2="189.98" stroke="#fc8d62" stroke-width="2.2"/>
<line x1="1127.19" y1="215.58" x2="1127.19" y2="192.17" stroke="#fc8d62" stroke-width="2.2"/>
<line x1="1146.50" y1="217.41" x2="1146.50" y2="194.49" stroke="#fc8d62" stroke-width="2.2"/>
<line x1="1165.82" y1="218.87" x2="1165.82" y2="195.95" stroke="#fc8d62" stroke-width="2.2"/>
<line x1="1185.13" y1="220.46" x2="1185.13" y2="197.54" stroke="#fc8d62" stroke-width="2.2"/>
<line x1="1204.45" y1="222.16" x2="1204.45" y2="199.24" stroke="#fc8d62" stroke-width="2.2"/>
<line x1="1223.76" y1="223.02" x2="1223.76" y2="200.10" stroke="#fc8d62" stroke-width="2.2"/>
<line x1="1243.08" y1="224.60" x2="1243.08" y2="201.68" stroke="#fc8d62" stroke-width="2.2"/>
<circle cx="991.99" cy="82.82" r="3.0" fill="#fc8d62"/>
<circle cx="1011.30" cy="159.26" r="3.0" fill="#fc8d62"/>
<circle cx="1030.62" cy="184.13" r="3.0" fill="#fc8d62"/>
<circle cx="1049.93" cy="190.35" r="3.0" fill="#fc8d62"/>
<circle cx="1069.25" cy="194.86" r="3.0" fill="#fc8d62"/>
<circle cx="1088.56" cy="198.27" r="3.0" fill="#fc8d62"/>
<circle cx="1107.88" cy="201.68" r="3.0" fill="#fc8d62"/>
<circle cx="1127.19" cy="203.88" r="3.0" fill="#fc8d62"/>
<circle cx="1146.50" cy="205.95" r="3.0" fill="#fc8d62"/>
<circle cx="1165.82" cy="207.41" r="3.0" fill="#fc8d62"/>
<circle cx="1185.13" cy="209.00" r="3.0" fill="#fc8d62"/>
<circle cx="1204.45" cy="210.70" r="3.0" fill="#fc8d62"/>
<circle cx="1223.76" cy="211.56" r="3.0" fill="#fc8d62"/>
<circle cx="1243.08" cy="213.14" r="3.0" fill="#fc8d62"/>
<polyline points="992.57,141.46 1011.89,169.50 1031.20,176.81 1050.52,180.96 1069.83,182.91 1089.15,184.13 1108.46,185.10 1127.77,185.71 1147.09,186.57 1166.40,187.30 1185.72,187.54 1205.03,187.79 1224.35,188.27 1243.66,188.64" fill="none" stroke="#8da0cb" stroke-width="2.2" stroke-linejoin="round"/>
<line x1="992.57" y1="214.61" x2="992.57" y2="68.31" stroke="#8da0cb" stroke-width="2.2"/>
<line x1="1011.89" y1="181.69" x2="1011.89" y2="157.31" stroke="#8da0cb" stroke-width="2.2"/>
<line x1="1031.20" y1="184.13" x2="1031.20" y2="169.50" stroke="#8da0cb" stroke-width="2.2"/>
<line x1="1050.52" y1="187.05" x2="1050.52" y2="174.86" stroke="#8da0cb" stroke-width="2.2"/>
<line x1="1069.83" y1="188.27" x2="1069.83" y2="177.54" stroke="#8da0cb" stroke-width="2.2"/>
<line x1="1089.15" y1="189.00" x2="1089.15" y2="179.25" stroke="#8da0cb" stroke-width="2.2"/>
<line x1="1108.46" y1="189.98" x2="1108.46" y2="180.23" stroke="#8da0cb" stroke-width="2.2"/>
<line x1="1127.77" y1="190.35" x2="1127.77" y2="181.08" stroke="#8da0cb" stroke-width="2.2"/>
<line x1="1147.09" y1="190.95" x2="1147.09" y2="182.18" stroke="#8da0cb" stroke-width="2.2"/>
<line x1="1166.40" y1="191.69" x2="1166.40" y2="182.91" stroke="#8da0cb" stroke-width="2.2"/>
<line x1="1185.72" y1="191.69" x2="1185.72" y2="183.40" stroke="#8da0cb" stroke-width="2.2"/>
<line x1="1205.03" y1="191.93" x2="1205.03" y2="183.64" stroke="#8da0cb" stroke-width="2.2"/>
<line x1="1224.35" y1="192.17" x2="1224.35" y2="184.37" stroke="#8da0cb" stroke-width="2.2"/>
<line x1="1243.66" y1="192.54" x2="1243.66" y2="184.74" stroke="#8da0cb" stroke-width="2.2"/>
<circle cx="992.57" cy="141.46" r="3.0" fill="#8da0cb"/>
<circle cx="1011.89" cy="169.50" r="3.0" fill="#8da0cb"/>
<circle cx="1031.20" cy="176.81" r="3.0" fill="#8da0cb"/>
<circle cx="1050.52" cy="180.96" r="3.0" fill="#8da0cb"/>
<circle cx="1069.83" cy="182.91" r="3.0" fill="#8da0cb"/>
<circle cx="1089.15" cy="184.13" r="3.0" fill="#8da0cb"/>
<circle cx="1108.46" cy="185.10" r="3.0" fill="#8da0cb"/>
<circle cx="1127.77" cy="185.71" r="3.0" fill="#8da0cb"/>
<circle cx="1147.09" cy="186.57" r="3.0" fill="#8da0cb"/>
<circle cx="1166.40" cy="187.30" r="3.0" fill="#8da0cb"/>
<circle cx="1185.72" cy="187.54" r="3.0" fill="#8da0cb"/>
<circle cx="1205.03" cy="187.79" r="3.0" fill="#8da0cb"/>
<circle cx="1224.35" cy="188.27" r="3.0" fill="#8da0cb"/>
<circle cx="1243.66" cy="188.64" r="3.0" fill="#8da0cb"/>
<polyline points="993.16,108.91 1012.47,140.48 1031.79,147.80 1051.10,153.04 1070.41,156.58 1089.73,159.26 1109.04,161.33 1128.36,163.40 1147.67,164.50 1166.99,166.57 1186.30,167.55 1205.61,169.01 1224.93,170.72 1244.24,171.45" fill="none" stroke="#e78ac3" stroke-width="2.2" stroke-linejoin="round"/>
<line x1="993.16" y1="157.67" x2="993.16" y2="60.14" stroke="#e78ac3" stroke-width="2.2"/>
<line x1="1012.47" y1="164.87" x2="1012.47" y2="116.10" stroke="#e78ac3" stroke-width="2.2"/>
<line x1="1031.79" y1="166.57" x2="1031.79" y2="129.02" stroke="#e78ac3" stroke-width="2.2"/>
<line x1="1051.10" y1="169.74" x2="1051.10" y2="136.34" stroke="#e78ac3" stroke-width="2.2"/>
<line x1="1070.41" y1="171.69" x2="1070.41" y2="141.46" stroke="#e78ac3" stroke-width="2.2"/>
<line x1="1089.73" y1="173.89" x2="1089.73" y2="144.63" stroke="#e78ac3" stroke-width="2.2"/>
<line x1="1109.04" y1="175.35" x2="1109.04" y2="147.31" stroke="#e78ac3" stroke-width="2.2"/>
<line x1="1128.36" y1="176.81" x2="1128.36" y2="149.99" stroke="#e78ac3" stroke-width="2.2"/>
<line x1="1147.67" y1="177.06" x2="1147.67" y2="151.94" stroke="#e78ac3" stroke-width="2.2"/>
<line x1="1166.99" y1="179.50" x2="1166.99" y2="153.65" stroke="#e78ac3" stroke-width="2.2"/>
<line x1="1186.30" y1="179.98" x2="1186.30" y2="155.11" stroke="#e78ac3" stroke-width="2.2"/>
<line x1="1205.61" y1="181.45" x2="1205.61" y2="156.58" stroke="#e78ac3" stroke-width="2.2"/>
<line x1="1224.93" y1="182.66" x2="1224.93" y2="158.77" stroke="#e78ac3" stroke-width="2.2"/>
<line x1="1244.24" y1="182.91" x2="1244.24" y2="159.99" stroke="#e78ac3" stroke-width="2.2"/>
<circle cx="993.16" cy="108.91" r="3.0" fill="#e78ac3"/>
<circle cx="1012.47" cy="140.48" r="3.0" fill="#e78ac3"/>
<circle cx="1031.79" cy="147.80" r="3.0" fill="#e78ac3"/>
<circle cx="1051.10" cy="153.04" r="3.0" fill="#e78ac3"/>
<circle cx="1070.41" cy="156.58" r="3.0" fill="#e78ac3"/>
<circle cx="1089.73" cy="159.26" r="3.0" fill="#e78ac3"/>
<circle cx="1109.04" cy="161.33" r="3.0" fill="#e78ac3"/>
<circle cx="1128.36" cy="163.40" r="3.0" fill="#e78ac3"/>
<circle cx="1147.67" cy="164.50" r="3.0" fill="#e78ac3"/>
<circle cx="1166.99" cy="166.57" r="3.0" fill="#e78ac3"/>
<circle cx="1186.30" cy="167.55" r="3.0" fill="#e78ac3"/>
<circle cx="1205.61" cy="169.01" r="3.0" fill="#e78ac3"/>
<circle cx="1224.93" cy="170.72" r="3.0" fill="#e78ac3"/>
<circle cx="1244.24" cy="171.45" r="3.0" fill="#e78ac3"/>
<polyline points="993.74,165.35 1013.05,175.59 1032.37,180.96 1051.68,184.13 1071.00,185.71 1090.31,187.30 1109.63,188.64 1128.94,190.35 1148.25,191.44 1167.57,191.93 1186.88,192.42 1206.20,192.78 1225.51,193.39 1244.83,194.12" fill="none" stroke="#a6d854" stroke-width="2.2" stroke-linejoin="round"/>
<line x1="993.74" y1="201.93" x2="993.74" y2="128.78" stroke="#a6d854" stroke-width="2.2"/>
<line x1="1013.05" y1="182.91" x2="1013.05" y2="168.28" stroke="#a6d854" stroke-width="2.2"/>
<line x1="1032.37" y1="187.79" x2="1032.37" y2="174.13" stroke="#a6d854" stroke-width="2.2"/>
<line x1="1051.68" y1="190.22" x2="1051.68" y2="178.03" stroke="#a6d854" stroke-width="2.2"/>
<line x1="1071.00" y1="191.56" x2="1071.00" y2="179.86" stroke="#a6d854" stroke-width="2.2"/>
<line x1="1090.31" y1="193.15" x2="1090.31" y2="181.45" stroke="#a6d854" stroke-width="2.2"/>
<line x1="1109.63" y1="194.49" x2="1109.63" y2="182.79" stroke="#a6d854" stroke-width="2.2"/>
<line x1="1128.94" y1="195.95" x2="1128.94" y2="184.74" stroke="#a6d854" stroke-width="2.2"/>
<line x1="1148.25" y1="197.05" x2="1148.25" y2="185.83" stroke="#a6d854" stroke-width="2.2"/>
<line x1="1167.57" y1="197.29" x2="1167.57" y2="186.57" stroke="#a6d854" stroke-width="2.2"/>
<line x1="1186.88" y1="197.78" x2="1186.88" y2="187.05" stroke="#a6d854" stroke-width="2.2"/>
<line x1="1206.20" y1="198.15" x2="1206.20" y2="187.42" stroke="#a6d854" stroke-width="2.2"/>
<line x1="1225.51" y1="198.51" x2="1225.51" y2="188.27" stroke="#a6d854" stroke-width="2.2"/>
<line x1="1244.83" y1="199.00" x2="1244.83" y2="189.25" stroke="#a6d854" stroke-width="2.2"/>
<circle cx="993.74" cy="165.35" r="3.0" fill="#a6d854"/>
<circle cx="1013.05" cy="175.59" r="3.0" fill="#a6d854"/>
<circle cx="1032.37" cy="180.96" r="3.0" fill="#a6d854"/>
<circle cx="1051.68" cy="184.13" r="3.0" fill="#a6d854"/>
<circle cx="1071.00" cy="185.71" r="3.0" fill="#a6d854"/>
<circle cx="1090.31" cy="187.30" r="3.0" fill="#a6d854"/>
<circle cx="1109.63" cy="188.64" r="3.0" fill="#a6d854"/>
<circle cx="1128.94" cy="190.35" r="3.0" fill="#a6d854"/>
<circle cx="1148.25" cy="191.44" r="3.0" fill="#a6d854"/>
<circle cx="1167.57" cy="191.93" r="3.0" fill="#a6d854"/>
<circle cx="1186.88" cy="192.42" r="3.0" fill="#a6d854"/>
<circle cx="1206.20" cy="192.78" r="3.0" fill="#a6d854"/>
<circle cx="1225.51" cy="193.39" r="3.0" fill="#a6d854"/>
<circle cx="1244.83" cy="194.12" r="3.0" fill="#a6d854"/>
<polyline points="994.32,62.70 1013.64,155.60 1032.95,187.30 1052.27,198.27 1071.58,203.88 1090.90,208.02 1110.21,210.70 1129.52,213.87 1148.84,214.85 1168.15,216.31 1187.47,218.02 1206.78,218.99 1226.10,220.46 1245.41,221.68" fill="none" stroke="#ffd92f" stroke-width="2.2" stroke-linejoin="round"/>
<line x1="994.32" y1="257.76" x2="994.32" y2="-132.35" stroke="#ffd92f" stroke-width="2.2"/>
<line x1="1013.64" y1="253.13" x2="1013.64" y2="58.07" stroke="#ffd92f" stroke-width="2.2"/>
<line x1="1032.95" y1="234.84" x2="1032.95" y2="139.75" stroke="#ffd92f" stroke-width="2.2"/>
<line x1="1052.27" y1="222.65" x2="1052.27" y2="173.89" stroke="#ffd92f" stroke-width="2.2"/>
<line x1="1071.58" y1="223.38" x2="1071.58" y2="184.37" stroke="#ffd92f" stroke-width="2.2"/>
<line x1="1090.90" y1="223.87" x2="1090.90" y2="192.17" stroke="#ffd92f" stroke-width="2.2"/>
<line x1="1110.21" y1="225.33" x2="1110.21" y2="196.08" stroke="#ffd92f" stroke-width="2.2"/>
<line x1="1129.52" y1="227.28" x2="1129.52" y2="200.46" stroke="#ffd92f" stroke-width="2.2"/>
<line x1="1148.84" y1="227.04" x2="1148.84" y2="202.66" stroke="#ffd92f" stroke-width="2.2"/>
<line x1="1168.15" y1="228.02" x2="1168.15" y2="204.61" stroke="#ffd92f" stroke-width="2.2"/>
<line x1="1187.47" y1="228.99" x2="1187.47" y2="207.05" stroke="#ffd92f" stroke-width="2.2"/>
<line x1="1206.78" y1="229.48" x2="1206.78" y2="208.51" stroke="#ffd92f" stroke-width="2.2"/>
<line x1="1226.10" y1="230.70" x2="1226.10" y2="210.22" stroke="#ffd92f" stroke-width="2.2"/>
<line x1="1245.41" y1="231.43" x2="1245.41" y2="211.92" stroke="#ffd92f" stroke-width="2.2"/>
<circle cx="994.32" cy="62.70" r="3.0" fill="#ffd92f"/>
<circle cx="1013.64" cy="155.60" r="3.0" fill="#ffd92f"/>
<circle cx="1032.95" cy="187.30" r="3.0" fill="#ffd92f"/>
<circle cx="1052.27" cy="198.27" r="3.0" fill="#ffd92f"/>
<circle cx="1071.58" cy="203.88" r="3.0" fill="#ffd92f"/>
<circle cx="1090.90" cy="208.02" r="3.0" fill="#ffd92f"/>
<circle cx="1110.21" cy="210.70" r="3.0" fill="#ffd92f"/>
<circle cx="1129.52" cy="213.87" r="3.0" fill="#ffd92f"/>
<circle cx="1148.84" cy="214.85" r="3.0" fill="#ffd92f"/>
<circle cx="1168.15" cy="216.31" r="3.0" fill="#ffd92f"/>
<circle cx="1187.47" cy="218.02" r="3.0" fill="#ffd92f"/>
<circle cx="1206.78" cy="218.99" r="3.0" fill="#ffd92f"/>
<circle cx="1226.10" cy="220.46" r="3.0" fill="#ffd92f"/>
<circle cx="1245.41" cy="221.68" r="3.0" fill="#ffd92f"/>
<polyline points="994.91,159.01 1014.22,213.87 1033.54,228.26 1052.85,235.57 1072.16,239.72 1091.48,242.40 1110.79,243.86 1130.11,244.60 1149.42,245.82 1168.74,246.55 1188.05,247.03 1207.36,247.52 1226.68,247.77 1245.99,248.01" fill="none" stroke="#e5c494" stroke-width="2.2" stroke-linejoin="round"/>
<line x1="994.91" y1="310.18" x2="994.91" y2="7.84" stroke="#e5c494" stroke-width="2.2"/>
<line x1="1014.22" y1="255.32" x2="1014.22" y2="172.42" stroke="#e5c494" stroke-width="2.2"/>
<line x1="1033.54" y1="255.08" x2="1033.54" y2="201.44" stroke="#e5c494" stroke-width="2.2"/>
<line x1="1052.85" y1="257.52" x2="1052.85" y2="213.63" stroke="#e5c494" stroke-width="2.2"/>
<line x1="1072.16" y1="260.20" x2="1072.16" y2="219.24" stroke="#e5c494" stroke-width="2.2"/>
<line x1="1091.48" y1="254.84" x2="1091.48" y2="229.97" stroke="#e5c494" stroke-width="2.2"/>
<line x1="1110.79" y1="254.84" x2="1110.79" y2="232.89" stroke="#e5c494" stroke-width="2.2"/>
<line x1="1130.11" y1="252.64" x2="1130.11" y2="236.55" stroke="#e5c494" stroke-width="2.2"/>
<line x1="1149.42" y1="252.89" x2="1149.42" y2="238.74" stroke="#e5c494" stroke-width="2.2"/>
<line x1="1168.74" y1="251.18" x2="1168.74" y2="241.91" stroke="#e5c494" stroke-width="2.2"/>
<line x1="1188.05" y1="251.67" x2="1188.05" y2="242.40" stroke="#e5c494" stroke-width="2.2"/>
<line x1="1207.36" y1="251.06" x2="1207.36" y2="243.99" stroke="#e5c494" stroke-width="2.2"/>
<line x1="1226.68" y1="250.94" x2="1226.68" y2="244.60" stroke="#e5c494" stroke-width="2.2"/>
<line x1="1245.99" y1="250.94" x2="1245.99" y2="245.08" stroke="#e5c494" stroke-width="2.2"/>
<circle cx="994.91" cy="159.01" r="3.0" fill="#e5c494"/>
<circle cx="1014.22" cy="213.87" r="3.0" fill="#e5c494"/>
<circle cx="1033.54" cy="228.26" r="3.0" fill="#e5c494"/>
<circle cx="1052.85" cy="235.57" r="3.0" fill="#e5c494"/>
<circle cx="1072.16" cy="239.72" r="3.0" fill="#e5c494"/>
<circle cx="1091.48" cy="242.40" r="3.0" fill="#e5c494"/>
<circle cx="1110.79" cy="243.86" r="3.0" fill="#e5c494"/>
<circle cx="1130.11" cy="244.60" r="3.0" fill="#e5c494"/>
<circle cx="1149.42" cy="245.82" r="3.0" fill="#e5c494"/>
<circle cx="1168.74" cy="246.55" r="3.0" fill="#e5c494"/>
<circle cx="1188.05" cy="247.03" r="3.0" fill="#e5c494"/>
<circle cx="1207.36" cy="247.52" r="3.0" fill="#e5c494"/>
<circle cx="1226.68" cy="247.77" r="3.0" fill="#e5c494"/>
<circle cx="1245.99" cy="248.01" r="3.0" fill="#e5c494"/>
</g>
<text x="0.00" y="0.00" font-size="12.72" text-anchor="middle" textLength="19.68" lengthAdjust="spacingAndGlyphs" transform="translate(9.5,136.8) rotate(-90)">FID</text>
<text x="1298.00" y="92.70" font-size="11.02" text-anchor="start" textLength="31.23" lengthAdjust="spacingAndGlyphs" >Model</text>
<circle cx="1281.1" cy="106.00" r="5.9" fill="#66c2a5"/>
<text x="1302.30" y="108.60" font-size="11.66" text-anchor="start" textLength="38.77" lengthAdjust="spacingAndGlyphs" >BEGAN</text>
<circle cx="1281.1" cy="122.60" r="5.9" fill="#fc8d62"/>
<text x="1302.30" y="125.20" font-size="11.66" text-anchor="start" textLength="47.28" lengthAdjust="spacingAndGlyphs" >DRAGAN</text>
<circle cx="1281.1" cy="139.20" r="5.9" fill="#8da0cb"/>
<text x="1302.30" y="141.80" font-size="11.66" text-anchor="start" textLength="37.39" lengthAdjust="spacingAndGlyphs" >LSGAN</text>
<circle cx="1281.1" cy="155.80" r="5.9" fill="#e78ac3"/>
<text x="1302.30" y="158.40" font-size="11.66" text-anchor="start" textLength="46.76" lengthAdjust="spacingAndGlyphs" >MM GAN</text>
<circle cx="1281.1" cy="172.40" r="5.9" fill="#a6d854"/>
<text x="1302.30" y="175.00" font-size="11.66" text-anchor="start" textLength="42.99" lengthAdjust="spacingAndGlyphs" >NS GAN</text>
<circle cx="1281.1" cy="189.00" r="5.9" fill="#ffd92f"/>
<text x="1302.30" y="191.60" font-size="11.66" text-anchor="start" textLength="35.15" lengthAdjust="spacingAndGlyphs" >WGAN</text>
<circle cx="1281.1" cy="205.60" r="5.9" fill="#e5c494"/>
<text x="1302.30" y="208.20" font-size="11.66" text-anchor="start" textLength="53.81" lengthAdjust="spacingAndGlyphs" >WGAN GP</text>
</svg></body></html>
